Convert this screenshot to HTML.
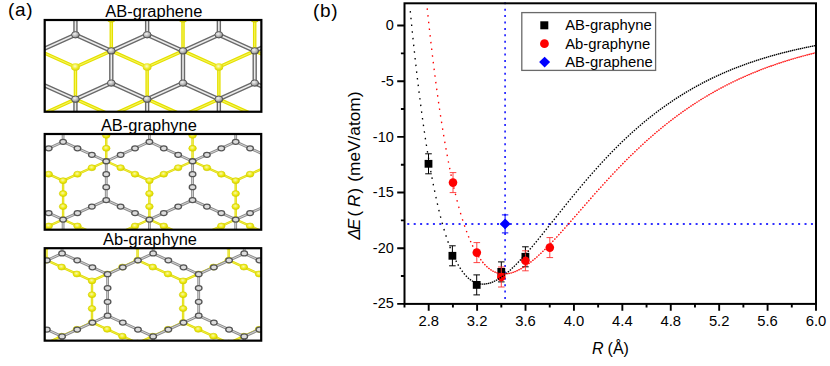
<!DOCTYPE html>
<html><head><meta charset="utf-8"><style>
html,body{margin:0;padding:0;background:#fff;}
body{width:830px;height:366px;overflow:hidden;position:relative;}
svg{position:absolute;left:0;top:0;}
text{font-family:"Liberation Sans", sans-serif;fill:#000;}
</style></head><body>
<svg width="830" height="366" viewBox="0 0 830 366">
<defs><radialGradient id="ggrad" cx="0.4" cy="0.35" r="0.7"><stop offset="0" stop-color="#f4f4f4"/><stop offset="0.6" stop-color="#b0b0b0"/><stop offset="1" stop-color="#5a5a5a"/></radialGradient><radialGradient id="ygrad" cx="0.45" cy="0.4" r="0.7"><stop offset="0" stop-color="#fbfbd0"/><stop offset="0.5" stop-color="#eeea20"/><stop offset="1" stop-color="#c8c400"/></radialGradient><radialGradient id="ygrad2" cx="0.45" cy="0.4" r="0.6"><stop offset="0" stop-color="#f8f8b0"/><stop offset="0.6" stop-color="#eeea10"/><stop offset="1" stop-color="#d8d400"/></radialGradient></defs>
<clipPath id="clip1"><rect x="44.7" y="20.0" width="216.65000000000003" height="91.75"/></clipPath>
<g clip-path="url(#clip1)">
<path d="M-32.1 115.3L3.75 99.2 M3.75 163.6L-32.1 147.5 M3.75 163.6L39.6 147.5 M-32.1 18.7L3.75 2.6 M3.75 67L3.75 99.2 M3.75 67L-32.1 50.9 M3.75 67L39.6 50.9 M39.6 115.3L39.6 147.5 M39.6 115.3L3.75 99.2 M39.6 115.3L75.45 99.2 M75.45 163.6L39.6 147.5 M75.45 163.6L111.3 147.5 M3.75 -29.6L3.75 2.6 M3.75 -29.6L-32.1 -45.7 M3.75 -29.6L39.6 -45.7 M39.6 18.7L39.6 50.9 M39.6 18.7L3.75 2.6 M39.6 18.7L75.45 2.6 M75.45 67L75.45 99.2 M75.45 67L39.6 50.9 M75.45 67L111.3 50.9 M111.3 115.3L111.3 147.5 M111.3 115.3L75.45 99.2 M111.3 115.3L147.15 99.2 M147.15 163.6L111.3 147.5 M147.15 163.6L183 147.5 M75.45 -29.6L75.45 2.6 M75.45 -29.6L39.6 -45.7 M75.45 -29.6L111.3 -45.7 M111.3 18.7L111.3 50.9 M111.3 18.7L75.45 2.6 M111.3 18.7L147.15 2.6 M147.15 67L147.15 99.2 M147.15 67L111.3 50.9 M147.15 67L183 50.9 M183 115.3L183 147.5 M183 115.3L147.15 99.2 M183 115.3L218.85 99.2 M218.85 163.6L183 147.5 M218.85 163.6L254.7 147.5 M147.15 -29.6L147.15 2.6 M147.15 -29.6L111.3 -45.7 M147.15 -29.6L183 -45.7 M183 18.7L183 50.9 M183 18.7L147.15 2.6 M183 18.7L218.85 2.6 M218.85 67L218.85 99.2 M218.85 67L183 50.9 M218.85 67L254.7 50.9 M254.7 115.3L254.7 147.5 M254.7 115.3L218.85 99.2 M254.7 115.3L290.55 99.2 M290.55 163.6L254.7 147.5 M290.55 163.6L326.4 147.5 M218.85 -29.6L218.85 2.6 M218.85 -29.6L183 -45.7 M218.85 -29.6L254.7 -45.7 M254.7 18.7L254.7 50.9 M254.7 18.7L218.85 2.6 M254.7 18.7L290.55 2.6 M290.55 67L290.55 99.2 M290.55 67L254.7 50.9 M290.55 67L326.4 50.9 M326.4 115.3L290.55 99.2 M290.55 -29.6L290.55 2.6 M290.55 -29.6L254.7 -45.7 M290.55 -29.6L326.4 -45.7 M326.4 18.7L290.55 2.6" stroke="#e4e000" stroke-width="3.5" fill="none"/>
<path d="M-32.1 115.3L3.75 99.2 M3.75 163.6L-32.1 147.5 M3.75 163.6L39.6 147.5 M-32.1 18.7L3.75 2.6 M3.75 67L3.75 99.2 M3.75 67L-32.1 50.9 M3.75 67L39.6 50.9 M39.6 115.3L39.6 147.5 M39.6 115.3L3.75 99.2 M39.6 115.3L75.45 99.2 M75.45 163.6L39.6 147.5 M75.45 163.6L111.3 147.5 M3.75 -29.6L3.75 2.6 M3.75 -29.6L-32.1 -45.7 M3.75 -29.6L39.6 -45.7 M39.6 18.7L39.6 50.9 M39.6 18.7L3.75 2.6 M39.6 18.7L75.45 2.6 M75.45 67L75.45 99.2 M75.45 67L39.6 50.9 M75.45 67L111.3 50.9 M111.3 115.3L111.3 147.5 M111.3 115.3L75.45 99.2 M111.3 115.3L147.15 99.2 M147.15 163.6L111.3 147.5 M147.15 163.6L183 147.5 M75.45 -29.6L75.45 2.6 M75.45 -29.6L39.6 -45.7 M75.45 -29.6L111.3 -45.7 M111.3 18.7L111.3 50.9 M111.3 18.7L75.45 2.6 M111.3 18.7L147.15 2.6 M147.15 67L147.15 99.2 M147.15 67L111.3 50.9 M147.15 67L183 50.9 M183 115.3L183 147.5 M183 115.3L147.15 99.2 M183 115.3L218.85 99.2 M218.85 163.6L183 147.5 M218.85 163.6L254.7 147.5 M147.15 -29.6L147.15 2.6 M147.15 -29.6L111.3 -45.7 M147.15 -29.6L183 -45.7 M183 18.7L183 50.9 M183 18.7L147.15 2.6 M183 18.7L218.85 2.6 M218.85 67L218.85 99.2 M218.85 67L183 50.9 M218.85 67L254.7 50.9 M254.7 115.3L254.7 147.5 M254.7 115.3L218.85 99.2 M254.7 115.3L290.55 99.2 M290.55 163.6L254.7 147.5 M290.55 163.6L326.4 147.5 M218.85 -29.6L218.85 2.6 M218.85 -29.6L183 -45.7 M218.85 -29.6L254.7 -45.7 M254.7 18.7L254.7 50.9 M254.7 18.7L218.85 2.6 M254.7 18.7L290.55 2.6 M290.55 67L290.55 99.2 M290.55 67L254.7 50.9 M290.55 67L326.4 50.9 M326.4 115.3L290.55 99.2 M290.55 -29.6L290.55 2.6 M290.55 -29.6L254.7 -45.7 M290.55 -29.6L326.4 -45.7 M326.4 18.7L290.55 2.6" stroke="#f6f45a" stroke-width="1.1" fill="none"/>
<ellipse cx="-32.1" cy="115.3" rx="4.4" ry="3.8" fill="url(#ygrad)" stroke="none" stroke-width="0"/>
<ellipse cx="3.75" cy="99.2" rx="4.4" ry="3.8" fill="url(#ygrad)" stroke="none" stroke-width="0"/>
<ellipse cx="3.75" cy="163.6" rx="4.4" ry="3.8" fill="url(#ygrad)" stroke="none" stroke-width="0"/>
<ellipse cx="-32.1" cy="147.5" rx="4.4" ry="3.8" fill="url(#ygrad)" stroke="none" stroke-width="0"/>
<ellipse cx="39.6" cy="147.5" rx="4.4" ry="3.8" fill="url(#ygrad)" stroke="none" stroke-width="0"/>
<ellipse cx="-32.1" cy="18.7" rx="4.4" ry="3.8" fill="url(#ygrad)" stroke="none" stroke-width="0"/>
<ellipse cx="3.75" cy="2.6" rx="4.4" ry="3.8" fill="url(#ygrad)" stroke="none" stroke-width="0"/>
<ellipse cx="3.75" cy="67" rx="4.4" ry="3.8" fill="url(#ygrad)" stroke="none" stroke-width="0"/>
<ellipse cx="-32.1" cy="50.9" rx="4.4" ry="3.8" fill="url(#ygrad)" stroke="none" stroke-width="0"/>
<ellipse cx="39.6" cy="50.9" rx="4.4" ry="3.8" fill="url(#ygrad)" stroke="none" stroke-width="0"/>
<ellipse cx="39.6" cy="115.3" rx="4.4" ry="3.8" fill="url(#ygrad)" stroke="none" stroke-width="0"/>
<ellipse cx="75.45" cy="99.2" rx="4.4" ry="3.8" fill="url(#ygrad)" stroke="none" stroke-width="0"/>
<ellipse cx="75.45" cy="163.6" rx="4.4" ry="3.8" fill="url(#ygrad)" stroke="none" stroke-width="0"/>
<ellipse cx="111.3" cy="147.5" rx="4.4" ry="3.8" fill="url(#ygrad)" stroke="none" stroke-width="0"/>
<ellipse cx="3.75" cy="-29.6" rx="4.4" ry="3.8" fill="url(#ygrad)" stroke="none" stroke-width="0"/>
<ellipse cx="-32.1" cy="-45.7" rx="4.4" ry="3.8" fill="url(#ygrad)" stroke="none" stroke-width="0"/>
<ellipse cx="39.6" cy="-45.7" rx="4.4" ry="3.8" fill="url(#ygrad)" stroke="none" stroke-width="0"/>
<ellipse cx="39.6" cy="18.7" rx="4.4" ry="3.8" fill="url(#ygrad)" stroke="none" stroke-width="0"/>
<ellipse cx="75.45" cy="2.6" rx="4.4" ry="3.8" fill="url(#ygrad)" stroke="none" stroke-width="0"/>
<ellipse cx="75.45" cy="67" rx="4.4" ry="3.8" fill="url(#ygrad)" stroke="none" stroke-width="0"/>
<ellipse cx="111.3" cy="50.9" rx="4.4" ry="3.8" fill="url(#ygrad)" stroke="none" stroke-width="0"/>
<ellipse cx="111.3" cy="115.3" rx="4.4" ry="3.8" fill="url(#ygrad)" stroke="none" stroke-width="0"/>
<ellipse cx="147.15" cy="99.2" rx="4.4" ry="3.8" fill="url(#ygrad)" stroke="none" stroke-width="0"/>
<ellipse cx="147.15" cy="163.6" rx="4.4" ry="3.8" fill="url(#ygrad)" stroke="none" stroke-width="0"/>
<ellipse cx="183" cy="147.5" rx="4.4" ry="3.8" fill="url(#ygrad)" stroke="none" stroke-width="0"/>
<ellipse cx="75.45" cy="-29.6" rx="4.4" ry="3.8" fill="url(#ygrad)" stroke="none" stroke-width="0"/>
<ellipse cx="111.3" cy="-45.7" rx="4.4" ry="3.8" fill="url(#ygrad)" stroke="none" stroke-width="0"/>
<ellipse cx="111.3" cy="18.7" rx="4.4" ry="3.8" fill="url(#ygrad)" stroke="none" stroke-width="0"/>
<ellipse cx="147.15" cy="2.6" rx="4.4" ry="3.8" fill="url(#ygrad)" stroke="none" stroke-width="0"/>
<ellipse cx="147.15" cy="67" rx="4.4" ry="3.8" fill="url(#ygrad)" stroke="none" stroke-width="0"/>
<ellipse cx="183" cy="50.9" rx="4.4" ry="3.8" fill="url(#ygrad)" stroke="none" stroke-width="0"/>
<ellipse cx="183" cy="115.3" rx="4.4" ry="3.8" fill="url(#ygrad)" stroke="none" stroke-width="0"/>
<ellipse cx="218.85" cy="99.2" rx="4.4" ry="3.8" fill="url(#ygrad)" stroke="none" stroke-width="0"/>
<ellipse cx="218.85" cy="163.6" rx="4.4" ry="3.8" fill="url(#ygrad)" stroke="none" stroke-width="0"/>
<ellipse cx="254.7" cy="147.5" rx="4.4" ry="3.8" fill="url(#ygrad)" stroke="none" stroke-width="0"/>
<ellipse cx="147.15" cy="-29.6" rx="4.4" ry="3.8" fill="url(#ygrad)" stroke="none" stroke-width="0"/>
<ellipse cx="183" cy="-45.7" rx="4.4" ry="3.8" fill="url(#ygrad)" stroke="none" stroke-width="0"/>
<ellipse cx="183" cy="18.7" rx="4.4" ry="3.8" fill="url(#ygrad)" stroke="none" stroke-width="0"/>
<ellipse cx="218.85" cy="2.6" rx="4.4" ry="3.8" fill="url(#ygrad)" stroke="none" stroke-width="0"/>
<ellipse cx="218.85" cy="67" rx="4.4" ry="3.8" fill="url(#ygrad)" stroke="none" stroke-width="0"/>
<ellipse cx="254.7" cy="50.9" rx="4.4" ry="3.8" fill="url(#ygrad)" stroke="none" stroke-width="0"/>
<ellipse cx="254.7" cy="115.3" rx="4.4" ry="3.8" fill="url(#ygrad)" stroke="none" stroke-width="0"/>
<ellipse cx="290.55" cy="99.2" rx="4.4" ry="3.8" fill="url(#ygrad)" stroke="none" stroke-width="0"/>
<ellipse cx="290.55" cy="163.6" rx="4.4" ry="3.8" fill="url(#ygrad)" stroke="none" stroke-width="0"/>
<ellipse cx="326.4" cy="147.5" rx="4.4" ry="3.8" fill="url(#ygrad)" stroke="none" stroke-width="0"/>
<ellipse cx="218.85" cy="-29.6" rx="4.4" ry="3.8" fill="url(#ygrad)" stroke="none" stroke-width="0"/>
<ellipse cx="254.7" cy="-45.7" rx="4.4" ry="3.8" fill="url(#ygrad)" stroke="none" stroke-width="0"/>
<ellipse cx="254.7" cy="18.7" rx="4.4" ry="3.8" fill="url(#ygrad)" stroke="none" stroke-width="0"/>
<ellipse cx="290.55" cy="2.6" rx="4.4" ry="3.8" fill="url(#ygrad)" stroke="none" stroke-width="0"/>
<ellipse cx="290.55" cy="67" rx="4.4" ry="3.8" fill="url(#ygrad)" stroke="none" stroke-width="0"/>
<ellipse cx="326.4" cy="50.9" rx="4.4" ry="3.8" fill="url(#ygrad)" stroke="none" stroke-width="0"/>
<ellipse cx="326.4" cy="115.3" rx="4.4" ry="3.8" fill="url(#ygrad)" stroke="none" stroke-width="0"/>
<ellipse cx="290.55" cy="-29.6" rx="4.4" ry="3.8" fill="url(#ygrad)" stroke="none" stroke-width="0"/>
<ellipse cx="326.4" cy="-45.7" rx="4.4" ry="3.8" fill="url(#ygrad)" stroke="none" stroke-width="0"/>
<ellipse cx="326.4" cy="18.7" rx="4.4" ry="3.8" fill="url(#ygrad)" stroke="none" stroke-width="0"/>
<path d="M-32.1 147.5L3.75 131.4 M-32.1 50.9L3.75 34.8 M3.75 99.2L3.75 131.4 M3.75 99.2L-32.1 83.1 M3.75 99.2L39.6 83.1 M39.6 147.5L39.6 179.7 M39.6 147.5L3.75 131.4 M39.6 147.5L75.45 131.4 M3.75 2.6L3.75 34.8 M3.75 2.6L-32.1 -13.5 M3.75 2.6L39.6 -13.5 M39.6 50.9L39.6 83.1 M39.6 50.9L3.75 34.8 M39.6 50.9L75.45 34.8 M75.45 99.2L75.45 131.4 M75.45 99.2L39.6 83.1 M75.45 99.2L111.3 83.1 M111.3 147.5L111.3 179.7 M111.3 147.5L75.45 131.4 M111.3 147.5L147.15 131.4 M39.6 -45.7L39.6 -13.5 M75.45 2.6L75.45 34.8 M75.45 2.6L39.6 -13.5 M75.45 2.6L111.3 -13.5 M111.3 50.9L111.3 83.1 M111.3 50.9L75.45 34.8 M111.3 50.9L147.15 34.8 M147.15 99.2L147.15 131.4 M147.15 99.2L111.3 83.1 M147.15 99.2L183 83.1 M183 147.5L183 179.7 M183 147.5L147.15 131.4 M183 147.5L218.85 131.4 M111.3 -45.7L111.3 -13.5 M147.15 2.6L147.15 34.8 M147.15 2.6L111.3 -13.5 M147.15 2.6L183 -13.5 M183 50.9L183 83.1 M183 50.9L147.15 34.8 M183 50.9L218.85 34.8 M218.85 99.2L218.85 131.4 M218.85 99.2L183 83.1 M218.85 99.2L254.7 83.1 M254.7 147.5L254.7 179.7 M254.7 147.5L218.85 131.4 M254.7 147.5L290.55 131.4 M183 -45.7L183 -13.5 M218.85 2.6L218.85 34.8 M218.85 2.6L183 -13.5 M218.85 2.6L254.7 -13.5 M254.7 50.9L254.7 83.1 M254.7 50.9L218.85 34.8 M254.7 50.9L290.55 34.8 M290.55 99.2L290.55 131.4 M290.55 99.2L254.7 83.1 M290.55 99.2L326.4 83.1 M326.4 147.5L290.55 131.4 M254.7 -45.7L254.7 -13.5 M290.55 2.6L290.55 34.8 M290.55 2.6L254.7 -13.5 M290.55 2.6L326.4 -13.5 M326.4 50.9L290.55 34.8" stroke="#6a6a6a" stroke-width="4.4" fill="none"/>
<path d="M-32.1 147.5L3.75 131.4 M-32.1 50.9L3.75 34.8 M3.75 99.2L3.75 131.4 M3.75 99.2L-32.1 83.1 M3.75 99.2L39.6 83.1 M39.6 147.5L39.6 179.7 M39.6 147.5L3.75 131.4 M39.6 147.5L75.45 131.4 M3.75 2.6L3.75 34.8 M3.75 2.6L-32.1 -13.5 M3.75 2.6L39.6 -13.5 M39.6 50.9L39.6 83.1 M39.6 50.9L3.75 34.8 M39.6 50.9L75.45 34.8 M75.45 99.2L75.45 131.4 M75.45 99.2L39.6 83.1 M75.45 99.2L111.3 83.1 M111.3 147.5L111.3 179.7 M111.3 147.5L75.45 131.4 M111.3 147.5L147.15 131.4 M39.6 -45.7L39.6 -13.5 M75.45 2.6L75.45 34.8 M75.45 2.6L39.6 -13.5 M75.45 2.6L111.3 -13.5 M111.3 50.9L111.3 83.1 M111.3 50.9L75.45 34.8 M111.3 50.9L147.15 34.8 M147.15 99.2L147.15 131.4 M147.15 99.2L111.3 83.1 M147.15 99.2L183 83.1 M183 147.5L183 179.7 M183 147.5L147.15 131.4 M183 147.5L218.85 131.4 M111.3 -45.7L111.3 -13.5 M147.15 2.6L147.15 34.8 M147.15 2.6L111.3 -13.5 M147.15 2.6L183 -13.5 M183 50.9L183 83.1 M183 50.9L147.15 34.8 M183 50.9L218.85 34.8 M218.85 99.2L218.85 131.4 M218.85 99.2L183 83.1 M218.85 99.2L254.7 83.1 M254.7 147.5L254.7 179.7 M254.7 147.5L218.85 131.4 M254.7 147.5L290.55 131.4 M183 -45.7L183 -13.5 M218.85 2.6L218.85 34.8 M218.85 2.6L183 -13.5 M218.85 2.6L254.7 -13.5 M254.7 50.9L254.7 83.1 M254.7 50.9L218.85 34.8 M254.7 50.9L290.55 34.8 M290.55 99.2L290.55 131.4 M290.55 99.2L254.7 83.1 M290.55 99.2L326.4 83.1 M326.4 147.5L290.55 131.4 M254.7 -45.7L254.7 -13.5 M290.55 2.6L290.55 34.8 M290.55 2.6L254.7 -13.5 M290.55 2.6L326.4 -13.5 M326.4 50.9L290.55 34.8" stroke="#ececec" stroke-width="1.6" fill="none"/>
<ellipse cx="-32.1" cy="147.5" rx="3.9" ry="3.2" fill="url(#ggrad)" stroke="#505050" stroke-width="0.9"/>
<ellipse cx="3.75" cy="131.4" rx="3.9" ry="3.2" fill="url(#ggrad)" stroke="#505050" stroke-width="0.9"/>
<ellipse cx="-32.1" cy="50.9" rx="3.9" ry="3.2" fill="url(#ggrad)" stroke="#505050" stroke-width="0.9"/>
<ellipse cx="3.75" cy="34.8" rx="3.9" ry="3.2" fill="url(#ggrad)" stroke="#505050" stroke-width="0.9"/>
<ellipse cx="3.75" cy="99.2" rx="3.9" ry="3.2" fill="url(#ggrad)" stroke="#505050" stroke-width="0.9"/>
<ellipse cx="-32.1" cy="83.1" rx="3.9" ry="3.2" fill="url(#ggrad)" stroke="#505050" stroke-width="0.9"/>
<ellipse cx="39.6" cy="83.1" rx="3.9" ry="3.2" fill="url(#ggrad)" stroke="#505050" stroke-width="0.9"/>
<ellipse cx="39.6" cy="147.5" rx="3.9" ry="3.2" fill="url(#ggrad)" stroke="#505050" stroke-width="0.9"/>
<ellipse cx="39.6" cy="179.7" rx="3.9" ry="3.2" fill="url(#ggrad)" stroke="#505050" stroke-width="0.9"/>
<ellipse cx="75.45" cy="131.4" rx="3.9" ry="3.2" fill="url(#ggrad)" stroke="#505050" stroke-width="0.9"/>
<ellipse cx="3.75" cy="2.6" rx="3.9" ry="3.2" fill="url(#ggrad)" stroke="#505050" stroke-width="0.9"/>
<ellipse cx="-32.1" cy="-13.5" rx="3.9" ry="3.2" fill="url(#ggrad)" stroke="#505050" stroke-width="0.9"/>
<ellipse cx="39.6" cy="-13.5" rx="3.9" ry="3.2" fill="url(#ggrad)" stroke="#505050" stroke-width="0.9"/>
<ellipse cx="39.6" cy="50.9" rx="3.9" ry="3.2" fill="url(#ggrad)" stroke="#505050" stroke-width="0.9"/>
<ellipse cx="75.45" cy="34.8" rx="3.9" ry="3.2" fill="url(#ggrad)" stroke="#505050" stroke-width="0.9"/>
<ellipse cx="75.45" cy="99.2" rx="3.9" ry="3.2" fill="url(#ggrad)" stroke="#505050" stroke-width="0.9"/>
<ellipse cx="111.3" cy="83.1" rx="3.9" ry="3.2" fill="url(#ggrad)" stroke="#505050" stroke-width="0.9"/>
<ellipse cx="111.3" cy="147.5" rx="3.9" ry="3.2" fill="url(#ggrad)" stroke="#505050" stroke-width="0.9"/>
<ellipse cx="111.3" cy="179.7" rx="3.9" ry="3.2" fill="url(#ggrad)" stroke="#505050" stroke-width="0.9"/>
<ellipse cx="147.15" cy="131.4" rx="3.9" ry="3.2" fill="url(#ggrad)" stroke="#505050" stroke-width="0.9"/>
<ellipse cx="39.6" cy="-45.7" rx="3.9" ry="3.2" fill="url(#ggrad)" stroke="#505050" stroke-width="0.9"/>
<ellipse cx="75.45" cy="2.6" rx="3.9" ry="3.2" fill="url(#ggrad)" stroke="#505050" stroke-width="0.9"/>
<ellipse cx="111.3" cy="-13.5" rx="3.9" ry="3.2" fill="url(#ggrad)" stroke="#505050" stroke-width="0.9"/>
<ellipse cx="111.3" cy="50.9" rx="3.9" ry="3.2" fill="url(#ggrad)" stroke="#505050" stroke-width="0.9"/>
<ellipse cx="147.15" cy="34.8" rx="3.9" ry="3.2" fill="url(#ggrad)" stroke="#505050" stroke-width="0.9"/>
<ellipse cx="147.15" cy="99.2" rx="3.9" ry="3.2" fill="url(#ggrad)" stroke="#505050" stroke-width="0.9"/>
<ellipse cx="183" cy="83.1" rx="3.9" ry="3.2" fill="url(#ggrad)" stroke="#505050" stroke-width="0.9"/>
<ellipse cx="183" cy="147.5" rx="3.9" ry="3.2" fill="url(#ggrad)" stroke="#505050" stroke-width="0.9"/>
<ellipse cx="183" cy="179.7" rx="3.9" ry="3.2" fill="url(#ggrad)" stroke="#505050" stroke-width="0.9"/>
<ellipse cx="218.85" cy="131.4" rx="3.9" ry="3.2" fill="url(#ggrad)" stroke="#505050" stroke-width="0.9"/>
<ellipse cx="111.3" cy="-45.7" rx="3.9" ry="3.2" fill="url(#ggrad)" stroke="#505050" stroke-width="0.9"/>
<ellipse cx="147.15" cy="2.6" rx="3.9" ry="3.2" fill="url(#ggrad)" stroke="#505050" stroke-width="0.9"/>
<ellipse cx="183" cy="-13.5" rx="3.9" ry="3.2" fill="url(#ggrad)" stroke="#505050" stroke-width="0.9"/>
<ellipse cx="183" cy="50.9" rx="3.9" ry="3.2" fill="url(#ggrad)" stroke="#505050" stroke-width="0.9"/>
<ellipse cx="218.85" cy="34.8" rx="3.9" ry="3.2" fill="url(#ggrad)" stroke="#505050" stroke-width="0.9"/>
<ellipse cx="218.85" cy="99.2" rx="3.9" ry="3.2" fill="url(#ggrad)" stroke="#505050" stroke-width="0.9"/>
<ellipse cx="254.7" cy="83.1" rx="3.9" ry="3.2" fill="url(#ggrad)" stroke="#505050" stroke-width="0.9"/>
<ellipse cx="254.7" cy="147.5" rx="3.9" ry="3.2" fill="url(#ggrad)" stroke="#505050" stroke-width="0.9"/>
<ellipse cx="254.7" cy="179.7" rx="3.9" ry="3.2" fill="url(#ggrad)" stroke="#505050" stroke-width="0.9"/>
<ellipse cx="290.55" cy="131.4" rx="3.9" ry="3.2" fill="url(#ggrad)" stroke="#505050" stroke-width="0.9"/>
<ellipse cx="183" cy="-45.7" rx="3.9" ry="3.2" fill="url(#ggrad)" stroke="#505050" stroke-width="0.9"/>
<ellipse cx="218.85" cy="2.6" rx="3.9" ry="3.2" fill="url(#ggrad)" stroke="#505050" stroke-width="0.9"/>
<ellipse cx="254.7" cy="-13.5" rx="3.9" ry="3.2" fill="url(#ggrad)" stroke="#505050" stroke-width="0.9"/>
<ellipse cx="254.7" cy="50.9" rx="3.9" ry="3.2" fill="url(#ggrad)" stroke="#505050" stroke-width="0.9"/>
<ellipse cx="290.55" cy="34.8" rx="3.9" ry="3.2" fill="url(#ggrad)" stroke="#505050" stroke-width="0.9"/>
<ellipse cx="290.55" cy="99.2" rx="3.9" ry="3.2" fill="url(#ggrad)" stroke="#505050" stroke-width="0.9"/>
<ellipse cx="326.4" cy="83.1" rx="3.9" ry="3.2" fill="url(#ggrad)" stroke="#505050" stroke-width="0.9"/>
<ellipse cx="326.4" cy="147.5" rx="3.9" ry="3.2" fill="url(#ggrad)" stroke="#505050" stroke-width="0.9"/>
<ellipse cx="254.7" cy="-45.7" rx="3.9" ry="3.2" fill="url(#ggrad)" stroke="#505050" stroke-width="0.9"/>
<ellipse cx="290.55" cy="2.6" rx="3.9" ry="3.2" fill="url(#ggrad)" stroke="#505050" stroke-width="0.9"/>
<ellipse cx="326.4" cy="-13.5" rx="3.9" ry="3.2" fill="url(#ggrad)" stroke="#505050" stroke-width="0.9"/>
<ellipse cx="326.4" cy="50.9" rx="3.9" ry="3.2" fill="url(#ggrad)" stroke="#505050" stroke-width="0.9"/>
</g>
<rect x="44.7" y="20.0" width="216.65" height="91.75" fill="none" stroke="#000" stroke-width="2.2"/>
<clipPath id="clip2"><rect x="44.7" y="134.0" width="216.5" height="95.69999999999999"/></clipPath>
<g clip-path="url(#clip2)">
<path d="M-23.2 297.23L19.95 277.8 M-23.2 180.68L19.95 161.25 M19.95 238.95L19.95 277.8 M19.95 238.95L-23.2 219.53 M19.95 238.95L63.1 219.53 M63.1 297.23L19.95 277.8 M63.1 297.23L106.25 277.8 M19.95 122.4L19.95 161.25 M19.95 122.4L-23.2 102.98 M19.95 122.4L63.1 102.98 M63.1 180.68L63.1 219.53 M63.1 180.68L19.95 161.25 M63.1 180.68L106.25 161.25 M106.25 238.95L106.25 277.8 M106.25 238.95L63.1 219.53 M106.25 238.95L149.4 219.53 M149.4 297.23L106.25 277.8 M149.4 297.23L192.55 277.8 M63.1 64.12L63.1 102.97 M106.25 122.4L106.25 161.25 M106.25 122.4L63.1 102.98 M106.25 122.4L149.4 102.98 M149.4 180.68L149.4 219.53 M149.4 180.68L106.25 161.25 M149.4 180.68L192.55 161.25 M192.55 238.95L192.55 277.8 M192.55 238.95L149.4 219.53 M192.55 238.95L235.7 219.53 M235.7 297.23L192.55 277.8 M235.7 297.23L278.85 277.8 M149.4 64.12L149.4 102.97 M192.55 122.4L192.55 161.25 M192.55 122.4L149.4 102.98 M192.55 122.4L235.7 102.98 M235.7 180.68L235.7 219.53 M235.7 180.68L192.55 161.25 M235.7 180.68L278.85 161.25 M278.85 238.95L278.85 277.8 M278.85 238.95L235.7 219.53 M278.85 238.95L322 219.53 M322 297.23L278.85 277.8 M235.7 64.12L235.7 102.97 M278.85 122.4L278.85 161.25 M278.85 122.4L235.7 102.98 M278.85 122.4L322 102.98 M322 180.68L278.85 161.25" stroke="#e2de00" stroke-width="2.4" fill="none"/>
<path d="M-23.2 297.23L19.95 277.8 M-23.2 180.68L19.95 161.25 M19.95 238.95L19.95 277.8 M19.95 238.95L-23.2 219.53 M19.95 238.95L63.1 219.53 M63.1 297.23L19.95 277.8 M63.1 297.23L106.25 277.8 M19.95 122.4L19.95 161.25 M19.95 122.4L-23.2 102.98 M19.95 122.4L63.1 102.98 M63.1 180.68L63.1 219.53 M63.1 180.68L19.95 161.25 M63.1 180.68L106.25 161.25 M106.25 238.95L106.25 277.8 M106.25 238.95L63.1 219.53 M106.25 238.95L149.4 219.53 M149.4 297.23L106.25 277.8 M149.4 297.23L192.55 277.8 M63.1 64.12L63.1 102.97 M106.25 122.4L106.25 161.25 M106.25 122.4L63.1 102.98 M106.25 122.4L149.4 102.98 M149.4 180.68L149.4 219.53 M149.4 180.68L106.25 161.25 M149.4 180.68L192.55 161.25 M192.55 238.95L192.55 277.8 M192.55 238.95L149.4 219.53 M192.55 238.95L235.7 219.53 M235.7 297.23L192.55 277.8 M235.7 297.23L278.85 277.8 M149.4 64.12L149.4 102.97 M192.55 122.4L192.55 161.25 M192.55 122.4L149.4 102.98 M192.55 122.4L235.7 102.98 M235.7 180.68L235.7 219.53 M235.7 180.68L192.55 161.25 M235.7 180.68L278.85 161.25 M278.85 238.95L278.85 277.8 M278.85 238.95L235.7 219.53 M278.85 238.95L322 219.53 M322 297.23L278.85 277.8 M235.7 64.12L235.7 102.97 M278.85 122.4L278.85 161.25 M278.85 122.4L235.7 102.98 M278.85 122.4L322 102.98 M322 180.68L278.85 161.25" stroke="#f0ec70" stroke-width="0.7" fill="none"/>
<ellipse cx="-23.2" cy="297.23" rx="3.8" ry="3.0" fill="url(#ygrad2)" stroke="#d0cc00" stroke-width="0.6"/>
<ellipse cx="19.95" cy="277.8" rx="3.8" ry="3.0" fill="url(#ygrad2)" stroke="#d0cc00" stroke-width="0.6"/>
<ellipse cx="-8.82" cy="290.75" rx="3.8" ry="3.0" fill="url(#ygrad2)" stroke="#d0cc00" stroke-width="0.6"/>
<ellipse cx="5.57" cy="284.28" rx="3.8" ry="3.0" fill="url(#ygrad2)" stroke="#d0cc00" stroke-width="0.6"/>
<ellipse cx="-23.2" cy="180.68" rx="3.8" ry="3.0" fill="url(#ygrad2)" stroke="#d0cc00" stroke-width="0.6"/>
<ellipse cx="19.95" cy="161.25" rx="3.8" ry="3.0" fill="url(#ygrad2)" stroke="#d0cc00" stroke-width="0.6"/>
<ellipse cx="-8.82" cy="174.2" rx="3.8" ry="3.0" fill="url(#ygrad2)" stroke="#d0cc00" stroke-width="0.6"/>
<ellipse cx="5.57" cy="167.72" rx="3.8" ry="3.0" fill="url(#ygrad2)" stroke="#d0cc00" stroke-width="0.6"/>
<ellipse cx="19.95" cy="238.95" rx="3.8" ry="3.0" fill="url(#ygrad2)" stroke="#d0cc00" stroke-width="0.6"/>
<ellipse cx="19.95" cy="251.9" rx="3.8" ry="3.0" fill="url(#ygrad2)" stroke="#d0cc00" stroke-width="0.6"/>
<ellipse cx="19.95" cy="264.85" rx="3.8" ry="3.0" fill="url(#ygrad2)" stroke="#d0cc00" stroke-width="0.6"/>
<ellipse cx="-23.2" cy="219.53" rx="3.8" ry="3.0" fill="url(#ygrad2)" stroke="#d0cc00" stroke-width="0.6"/>
<ellipse cx="5.57" cy="232.48" rx="3.8" ry="3.0" fill="url(#ygrad2)" stroke="#d0cc00" stroke-width="0.6"/>
<ellipse cx="-8.82" cy="226" rx="3.8" ry="3.0" fill="url(#ygrad2)" stroke="#d0cc00" stroke-width="0.6"/>
<ellipse cx="63.1" cy="219.53" rx="3.8" ry="3.0" fill="url(#ygrad2)" stroke="#d0cc00" stroke-width="0.6"/>
<ellipse cx="34.33" cy="232.48" rx="3.8" ry="3.0" fill="url(#ygrad2)" stroke="#d0cc00" stroke-width="0.6"/>
<ellipse cx="48.72" cy="226" rx="3.8" ry="3.0" fill="url(#ygrad2)" stroke="#d0cc00" stroke-width="0.6"/>
<ellipse cx="63.1" cy="297.23" rx="3.8" ry="3.0" fill="url(#ygrad2)" stroke="#d0cc00" stroke-width="0.6"/>
<ellipse cx="48.72" cy="290.75" rx="3.8" ry="3.0" fill="url(#ygrad2)" stroke="#d0cc00" stroke-width="0.6"/>
<ellipse cx="34.33" cy="284.28" rx="3.8" ry="3.0" fill="url(#ygrad2)" stroke="#d0cc00" stroke-width="0.6"/>
<ellipse cx="106.25" cy="277.8" rx="3.8" ry="3.0" fill="url(#ygrad2)" stroke="#d0cc00" stroke-width="0.6"/>
<ellipse cx="77.48" cy="290.75" rx="3.8" ry="3.0" fill="url(#ygrad2)" stroke="#d0cc00" stroke-width="0.6"/>
<ellipse cx="91.87" cy="284.28" rx="3.8" ry="3.0" fill="url(#ygrad2)" stroke="#d0cc00" stroke-width="0.6"/>
<ellipse cx="19.95" cy="122.4" rx="3.8" ry="3.0" fill="url(#ygrad2)" stroke="#d0cc00" stroke-width="0.6"/>
<ellipse cx="19.95" cy="135.35" rx="3.8" ry="3.0" fill="url(#ygrad2)" stroke="#d0cc00" stroke-width="0.6"/>
<ellipse cx="19.95" cy="148.3" rx="3.8" ry="3.0" fill="url(#ygrad2)" stroke="#d0cc00" stroke-width="0.6"/>
<ellipse cx="-23.2" cy="102.98" rx="3.8" ry="3.0" fill="url(#ygrad2)" stroke="#d0cc00" stroke-width="0.6"/>
<ellipse cx="5.57" cy="115.93" rx="3.8" ry="3.0" fill="url(#ygrad2)" stroke="#d0cc00" stroke-width="0.6"/>
<ellipse cx="-8.82" cy="109.45" rx="3.8" ry="3.0" fill="url(#ygrad2)" stroke="#d0cc00" stroke-width="0.6"/>
<ellipse cx="63.1" cy="102.98" rx="3.8" ry="3.0" fill="url(#ygrad2)" stroke="#d0cc00" stroke-width="0.6"/>
<ellipse cx="34.33" cy="115.93" rx="3.8" ry="3.0" fill="url(#ygrad2)" stroke="#d0cc00" stroke-width="0.6"/>
<ellipse cx="48.72" cy="109.45" rx="3.8" ry="3.0" fill="url(#ygrad2)" stroke="#d0cc00" stroke-width="0.6"/>
<ellipse cx="63.1" cy="180.68" rx="3.8" ry="3.0" fill="url(#ygrad2)" stroke="#d0cc00" stroke-width="0.6"/>
<ellipse cx="63.1" cy="193.62" rx="3.8" ry="3.0" fill="url(#ygrad2)" stroke="#d0cc00" stroke-width="0.6"/>
<ellipse cx="63.1" cy="206.58" rx="3.8" ry="3.0" fill="url(#ygrad2)" stroke="#d0cc00" stroke-width="0.6"/>
<ellipse cx="48.72" cy="174.2" rx="3.8" ry="3.0" fill="url(#ygrad2)" stroke="#d0cc00" stroke-width="0.6"/>
<ellipse cx="34.33" cy="167.72" rx="3.8" ry="3.0" fill="url(#ygrad2)" stroke="#d0cc00" stroke-width="0.6"/>
<ellipse cx="106.25" cy="161.25" rx="3.8" ry="3.0" fill="url(#ygrad2)" stroke="#d0cc00" stroke-width="0.6"/>
<ellipse cx="77.48" cy="174.2" rx="3.8" ry="3.0" fill="url(#ygrad2)" stroke="#d0cc00" stroke-width="0.6"/>
<ellipse cx="91.87" cy="167.72" rx="3.8" ry="3.0" fill="url(#ygrad2)" stroke="#d0cc00" stroke-width="0.6"/>
<ellipse cx="106.25" cy="238.95" rx="3.8" ry="3.0" fill="url(#ygrad2)" stroke="#d0cc00" stroke-width="0.6"/>
<ellipse cx="106.25" cy="251.9" rx="3.8" ry="3.0" fill="url(#ygrad2)" stroke="#d0cc00" stroke-width="0.6"/>
<ellipse cx="106.25" cy="264.85" rx="3.8" ry="3.0" fill="url(#ygrad2)" stroke="#d0cc00" stroke-width="0.6"/>
<ellipse cx="91.87" cy="232.48" rx="3.8" ry="3.0" fill="url(#ygrad2)" stroke="#d0cc00" stroke-width="0.6"/>
<ellipse cx="77.48" cy="226" rx="3.8" ry="3.0" fill="url(#ygrad2)" stroke="#d0cc00" stroke-width="0.6"/>
<ellipse cx="149.4" cy="219.53" rx="3.8" ry="3.0" fill="url(#ygrad2)" stroke="#d0cc00" stroke-width="0.6"/>
<ellipse cx="120.63" cy="232.48" rx="3.8" ry="3.0" fill="url(#ygrad2)" stroke="#d0cc00" stroke-width="0.6"/>
<ellipse cx="135.02" cy="226" rx="3.8" ry="3.0" fill="url(#ygrad2)" stroke="#d0cc00" stroke-width="0.6"/>
<ellipse cx="149.4" cy="297.23" rx="3.8" ry="3.0" fill="url(#ygrad2)" stroke="#d0cc00" stroke-width="0.6"/>
<ellipse cx="135.02" cy="290.75" rx="3.8" ry="3.0" fill="url(#ygrad2)" stroke="#d0cc00" stroke-width="0.6"/>
<ellipse cx="120.63" cy="284.28" rx="3.8" ry="3.0" fill="url(#ygrad2)" stroke="#d0cc00" stroke-width="0.6"/>
<ellipse cx="192.55" cy="277.8" rx="3.8" ry="3.0" fill="url(#ygrad2)" stroke="#d0cc00" stroke-width="0.6"/>
<ellipse cx="163.78" cy="290.75" rx="3.8" ry="3.0" fill="url(#ygrad2)" stroke="#d0cc00" stroke-width="0.6"/>
<ellipse cx="178.17" cy="284.28" rx="3.8" ry="3.0" fill="url(#ygrad2)" stroke="#d0cc00" stroke-width="0.6"/>
<ellipse cx="63.1" cy="64.12" rx="3.8" ry="3.0" fill="url(#ygrad2)" stroke="#d0cc00" stroke-width="0.6"/>
<ellipse cx="63.1" cy="102.97" rx="3.8" ry="3.0" fill="url(#ygrad2)" stroke="#d0cc00" stroke-width="0.6"/>
<ellipse cx="63.1" cy="77.08" rx="3.8" ry="3.0" fill="url(#ygrad2)" stroke="#d0cc00" stroke-width="0.6"/>
<ellipse cx="63.1" cy="90.02" rx="3.8" ry="3.0" fill="url(#ygrad2)" stroke="#d0cc00" stroke-width="0.6"/>
<ellipse cx="106.25" cy="122.4" rx="3.8" ry="3.0" fill="url(#ygrad2)" stroke="#d0cc00" stroke-width="0.6"/>
<ellipse cx="106.25" cy="135.35" rx="3.8" ry="3.0" fill="url(#ygrad2)" stroke="#d0cc00" stroke-width="0.6"/>
<ellipse cx="106.25" cy="148.3" rx="3.8" ry="3.0" fill="url(#ygrad2)" stroke="#d0cc00" stroke-width="0.6"/>
<ellipse cx="91.87" cy="115.93" rx="3.8" ry="3.0" fill="url(#ygrad2)" stroke="#d0cc00" stroke-width="0.6"/>
<ellipse cx="77.48" cy="109.45" rx="3.8" ry="3.0" fill="url(#ygrad2)" stroke="#d0cc00" stroke-width="0.6"/>
<ellipse cx="149.4" cy="102.98" rx="3.8" ry="3.0" fill="url(#ygrad2)" stroke="#d0cc00" stroke-width="0.6"/>
<ellipse cx="120.63" cy="115.93" rx="3.8" ry="3.0" fill="url(#ygrad2)" stroke="#d0cc00" stroke-width="0.6"/>
<ellipse cx="135.02" cy="109.45" rx="3.8" ry="3.0" fill="url(#ygrad2)" stroke="#d0cc00" stroke-width="0.6"/>
<ellipse cx="149.4" cy="180.68" rx="3.8" ry="3.0" fill="url(#ygrad2)" stroke="#d0cc00" stroke-width="0.6"/>
<ellipse cx="149.4" cy="193.62" rx="3.8" ry="3.0" fill="url(#ygrad2)" stroke="#d0cc00" stroke-width="0.6"/>
<ellipse cx="149.4" cy="206.58" rx="3.8" ry="3.0" fill="url(#ygrad2)" stroke="#d0cc00" stroke-width="0.6"/>
<ellipse cx="135.02" cy="174.2" rx="3.8" ry="3.0" fill="url(#ygrad2)" stroke="#d0cc00" stroke-width="0.6"/>
<ellipse cx="120.63" cy="167.72" rx="3.8" ry="3.0" fill="url(#ygrad2)" stroke="#d0cc00" stroke-width="0.6"/>
<ellipse cx="192.55" cy="161.25" rx="3.8" ry="3.0" fill="url(#ygrad2)" stroke="#d0cc00" stroke-width="0.6"/>
<ellipse cx="163.78" cy="174.2" rx="3.8" ry="3.0" fill="url(#ygrad2)" stroke="#d0cc00" stroke-width="0.6"/>
<ellipse cx="178.17" cy="167.72" rx="3.8" ry="3.0" fill="url(#ygrad2)" stroke="#d0cc00" stroke-width="0.6"/>
<ellipse cx="192.55" cy="238.95" rx="3.8" ry="3.0" fill="url(#ygrad2)" stroke="#d0cc00" stroke-width="0.6"/>
<ellipse cx="192.55" cy="251.9" rx="3.8" ry="3.0" fill="url(#ygrad2)" stroke="#d0cc00" stroke-width="0.6"/>
<ellipse cx="192.55" cy="264.85" rx="3.8" ry="3.0" fill="url(#ygrad2)" stroke="#d0cc00" stroke-width="0.6"/>
<ellipse cx="178.17" cy="232.48" rx="3.8" ry="3.0" fill="url(#ygrad2)" stroke="#d0cc00" stroke-width="0.6"/>
<ellipse cx="163.78" cy="226" rx="3.8" ry="3.0" fill="url(#ygrad2)" stroke="#d0cc00" stroke-width="0.6"/>
<ellipse cx="235.7" cy="219.53" rx="3.8" ry="3.0" fill="url(#ygrad2)" stroke="#d0cc00" stroke-width="0.6"/>
<ellipse cx="206.93" cy="232.48" rx="3.8" ry="3.0" fill="url(#ygrad2)" stroke="#d0cc00" stroke-width="0.6"/>
<ellipse cx="221.32" cy="226" rx="3.8" ry="3.0" fill="url(#ygrad2)" stroke="#d0cc00" stroke-width="0.6"/>
<ellipse cx="235.7" cy="297.23" rx="3.8" ry="3.0" fill="url(#ygrad2)" stroke="#d0cc00" stroke-width="0.6"/>
<ellipse cx="221.32" cy="290.75" rx="3.8" ry="3.0" fill="url(#ygrad2)" stroke="#d0cc00" stroke-width="0.6"/>
<ellipse cx="206.93" cy="284.28" rx="3.8" ry="3.0" fill="url(#ygrad2)" stroke="#d0cc00" stroke-width="0.6"/>
<ellipse cx="278.85" cy="277.8" rx="3.8" ry="3.0" fill="url(#ygrad2)" stroke="#d0cc00" stroke-width="0.6"/>
<ellipse cx="250.08" cy="290.75" rx="3.8" ry="3.0" fill="url(#ygrad2)" stroke="#d0cc00" stroke-width="0.6"/>
<ellipse cx="264.47" cy="284.28" rx="3.8" ry="3.0" fill="url(#ygrad2)" stroke="#d0cc00" stroke-width="0.6"/>
<ellipse cx="149.4" cy="64.12" rx="3.8" ry="3.0" fill="url(#ygrad2)" stroke="#d0cc00" stroke-width="0.6"/>
<ellipse cx="149.4" cy="102.97" rx="3.8" ry="3.0" fill="url(#ygrad2)" stroke="#d0cc00" stroke-width="0.6"/>
<ellipse cx="149.4" cy="77.08" rx="3.8" ry="3.0" fill="url(#ygrad2)" stroke="#d0cc00" stroke-width="0.6"/>
<ellipse cx="149.4" cy="90.02" rx="3.8" ry="3.0" fill="url(#ygrad2)" stroke="#d0cc00" stroke-width="0.6"/>
<ellipse cx="192.55" cy="122.4" rx="3.8" ry="3.0" fill="url(#ygrad2)" stroke="#d0cc00" stroke-width="0.6"/>
<ellipse cx="192.55" cy="135.35" rx="3.8" ry="3.0" fill="url(#ygrad2)" stroke="#d0cc00" stroke-width="0.6"/>
<ellipse cx="192.55" cy="148.3" rx="3.8" ry="3.0" fill="url(#ygrad2)" stroke="#d0cc00" stroke-width="0.6"/>
<ellipse cx="178.17" cy="115.93" rx="3.8" ry="3.0" fill="url(#ygrad2)" stroke="#d0cc00" stroke-width="0.6"/>
<ellipse cx="163.78" cy="109.45" rx="3.8" ry="3.0" fill="url(#ygrad2)" stroke="#d0cc00" stroke-width="0.6"/>
<ellipse cx="235.7" cy="102.98" rx="3.8" ry="3.0" fill="url(#ygrad2)" stroke="#d0cc00" stroke-width="0.6"/>
<ellipse cx="206.93" cy="115.93" rx="3.8" ry="3.0" fill="url(#ygrad2)" stroke="#d0cc00" stroke-width="0.6"/>
<ellipse cx="221.32" cy="109.45" rx="3.8" ry="3.0" fill="url(#ygrad2)" stroke="#d0cc00" stroke-width="0.6"/>
<ellipse cx="235.7" cy="180.68" rx="3.8" ry="3.0" fill="url(#ygrad2)" stroke="#d0cc00" stroke-width="0.6"/>
<ellipse cx="235.7" cy="193.62" rx="3.8" ry="3.0" fill="url(#ygrad2)" stroke="#d0cc00" stroke-width="0.6"/>
<ellipse cx="235.7" cy="206.58" rx="3.8" ry="3.0" fill="url(#ygrad2)" stroke="#d0cc00" stroke-width="0.6"/>
<ellipse cx="221.32" cy="174.2" rx="3.8" ry="3.0" fill="url(#ygrad2)" stroke="#d0cc00" stroke-width="0.6"/>
<ellipse cx="206.93" cy="167.72" rx="3.8" ry="3.0" fill="url(#ygrad2)" stroke="#d0cc00" stroke-width="0.6"/>
<ellipse cx="278.85" cy="161.25" rx="3.8" ry="3.0" fill="url(#ygrad2)" stroke="#d0cc00" stroke-width="0.6"/>
<ellipse cx="250.08" cy="174.2" rx="3.8" ry="3.0" fill="url(#ygrad2)" stroke="#d0cc00" stroke-width="0.6"/>
<ellipse cx="264.47" cy="167.72" rx="3.8" ry="3.0" fill="url(#ygrad2)" stroke="#d0cc00" stroke-width="0.6"/>
<ellipse cx="278.85" cy="238.95" rx="3.8" ry="3.0" fill="url(#ygrad2)" stroke="#d0cc00" stroke-width="0.6"/>
<ellipse cx="278.85" cy="251.9" rx="3.8" ry="3.0" fill="url(#ygrad2)" stroke="#d0cc00" stroke-width="0.6"/>
<ellipse cx="278.85" cy="264.85" rx="3.8" ry="3.0" fill="url(#ygrad2)" stroke="#d0cc00" stroke-width="0.6"/>
<ellipse cx="264.47" cy="232.48" rx="3.8" ry="3.0" fill="url(#ygrad2)" stroke="#d0cc00" stroke-width="0.6"/>
<ellipse cx="250.08" cy="226" rx="3.8" ry="3.0" fill="url(#ygrad2)" stroke="#d0cc00" stroke-width="0.6"/>
<ellipse cx="322" cy="219.53" rx="3.8" ry="3.0" fill="url(#ygrad2)" stroke="#d0cc00" stroke-width="0.6"/>
<ellipse cx="293.23" cy="232.48" rx="3.8" ry="3.0" fill="url(#ygrad2)" stroke="#d0cc00" stroke-width="0.6"/>
<ellipse cx="307.62" cy="226" rx="3.8" ry="3.0" fill="url(#ygrad2)" stroke="#d0cc00" stroke-width="0.6"/>
<ellipse cx="322" cy="297.23" rx="3.8" ry="3.0" fill="url(#ygrad2)" stroke="#d0cc00" stroke-width="0.6"/>
<ellipse cx="307.62" cy="290.75" rx="3.8" ry="3.0" fill="url(#ygrad2)" stroke="#d0cc00" stroke-width="0.6"/>
<ellipse cx="293.23" cy="284.28" rx="3.8" ry="3.0" fill="url(#ygrad2)" stroke="#d0cc00" stroke-width="0.6"/>
<ellipse cx="235.7" cy="64.12" rx="3.8" ry="3.0" fill="url(#ygrad2)" stroke="#d0cc00" stroke-width="0.6"/>
<ellipse cx="235.7" cy="102.97" rx="3.8" ry="3.0" fill="url(#ygrad2)" stroke="#d0cc00" stroke-width="0.6"/>
<ellipse cx="235.7" cy="77.08" rx="3.8" ry="3.0" fill="url(#ygrad2)" stroke="#d0cc00" stroke-width="0.6"/>
<ellipse cx="235.7" cy="90.02" rx="3.8" ry="3.0" fill="url(#ygrad2)" stroke="#d0cc00" stroke-width="0.6"/>
<ellipse cx="278.85" cy="122.4" rx="3.8" ry="3.0" fill="url(#ygrad2)" stroke="#d0cc00" stroke-width="0.6"/>
<ellipse cx="278.85" cy="135.35" rx="3.8" ry="3.0" fill="url(#ygrad2)" stroke="#d0cc00" stroke-width="0.6"/>
<ellipse cx="278.85" cy="148.3" rx="3.8" ry="3.0" fill="url(#ygrad2)" stroke="#d0cc00" stroke-width="0.6"/>
<ellipse cx="264.47" cy="115.93" rx="3.8" ry="3.0" fill="url(#ygrad2)" stroke="#d0cc00" stroke-width="0.6"/>
<ellipse cx="250.08" cy="109.45" rx="3.8" ry="3.0" fill="url(#ygrad2)" stroke="#d0cc00" stroke-width="0.6"/>
<ellipse cx="322" cy="102.98" rx="3.8" ry="3.0" fill="url(#ygrad2)" stroke="#d0cc00" stroke-width="0.6"/>
<ellipse cx="293.23" cy="115.93" rx="3.8" ry="3.0" fill="url(#ygrad2)" stroke="#d0cc00" stroke-width="0.6"/>
<ellipse cx="307.62" cy="109.45" rx="3.8" ry="3.0" fill="url(#ygrad2)" stroke="#d0cc00" stroke-width="0.6"/>
<ellipse cx="322" cy="180.68" rx="3.8" ry="3.0" fill="url(#ygrad2)" stroke="#d0cc00" stroke-width="0.6"/>
<ellipse cx="307.62" cy="174.2" rx="3.8" ry="3.0" fill="url(#ygrad2)" stroke="#d0cc00" stroke-width="0.6"/>
<ellipse cx="293.23" cy="167.72" rx="3.8" ry="3.0" fill="url(#ygrad2)" stroke="#d0cc00" stroke-width="0.6"/>
<path d="M-23.2 219.53L19.95 200.1 M19.95 277.8L-23.2 258.38 M19.95 277.8L63.1 258.38 M-23.2 102.97L19.95 83.55 M19.95 161.25L19.95 200.1 M19.95 161.25L-23.2 141.82 M19.95 161.25L63.1 141.82 M63.1 219.53L63.1 258.38 M63.1 219.53L19.95 200.1 M63.1 219.53L106.25 200.1 M106.25 277.8L63.1 258.38 M106.25 277.8L149.4 258.38 M63.1 102.97L63.1 141.82 M63.1 102.97L19.95 83.55 M63.1 102.97L106.25 83.55 M106.25 161.25L106.25 200.1 M106.25 161.25L63.1 141.82 M106.25 161.25L149.4 141.82 M149.4 219.53L149.4 258.38 M149.4 219.53L106.25 200.1 M149.4 219.53L192.55 200.1 M192.55 277.8L149.4 258.38 M192.55 277.8L235.7 258.38 M149.4 102.97L149.4 141.82 M149.4 102.97L106.25 83.55 M149.4 102.97L192.55 83.55 M192.55 161.25L192.55 200.1 M192.55 161.25L149.4 141.82 M192.55 161.25L235.7 141.82 M235.7 219.53L235.7 258.38 M235.7 219.53L192.55 200.1 M235.7 219.53L278.85 200.1 M278.85 277.8L235.7 258.38 M278.85 277.8L322 258.38 M235.7 102.97L235.7 141.82 M235.7 102.97L192.55 83.55 M235.7 102.97L278.85 83.55 M278.85 161.25L278.85 200.1 M278.85 161.25L235.7 141.82 M278.85 161.25L322 141.82 M322 219.53L278.85 200.1 M322 102.97L278.85 83.55" stroke="#8c8c8c" stroke-width="2.8" fill="none"/>
<path d="M-23.2 219.53L19.95 200.1 M19.95 277.8L-23.2 258.38 M19.95 277.8L63.1 258.38 M-23.2 102.97L19.95 83.55 M19.95 161.25L19.95 200.1 M19.95 161.25L-23.2 141.82 M19.95 161.25L63.1 141.82 M63.1 219.53L63.1 258.38 M63.1 219.53L19.95 200.1 M63.1 219.53L106.25 200.1 M106.25 277.8L63.1 258.38 M106.25 277.8L149.4 258.38 M63.1 102.97L63.1 141.82 M63.1 102.97L19.95 83.55 M63.1 102.97L106.25 83.55 M106.25 161.25L106.25 200.1 M106.25 161.25L63.1 141.82 M106.25 161.25L149.4 141.82 M149.4 219.53L149.4 258.38 M149.4 219.53L106.25 200.1 M149.4 219.53L192.55 200.1 M192.55 277.8L149.4 258.38 M192.55 277.8L235.7 258.38 M149.4 102.97L149.4 141.82 M149.4 102.97L106.25 83.55 M149.4 102.97L192.55 83.55 M192.55 161.25L192.55 200.1 M192.55 161.25L149.4 141.82 M192.55 161.25L235.7 141.82 M235.7 219.53L235.7 258.38 M235.7 219.53L192.55 200.1 M235.7 219.53L278.85 200.1 M278.85 277.8L235.7 258.38 M278.85 277.8L322 258.38 M235.7 102.97L235.7 141.82 M235.7 102.97L192.55 83.55 M235.7 102.97L278.85 83.55 M278.85 161.25L278.85 200.1 M278.85 161.25L235.7 141.82 M278.85 161.25L322 141.82 M322 219.53L278.85 200.1 M322 102.97L278.85 83.55" stroke="#dadada" stroke-width="0.9" fill="none"/>
<ellipse cx="-23.2" cy="219.53" rx="3.3" ry="2.5" fill="#dcdcdc" stroke="#555555" stroke-width="1.3"/>
<ellipse cx="19.95" cy="200.1" rx="3.3" ry="2.5" fill="#dcdcdc" stroke="#555555" stroke-width="1.3"/>
<ellipse cx="-8.82" cy="213.05" rx="3.3" ry="2.5" fill="#dcdcdc" stroke="#555555" stroke-width="1.3"/>
<ellipse cx="5.57" cy="206.57" rx="3.3" ry="2.5" fill="#dcdcdc" stroke="#555555" stroke-width="1.3"/>
<ellipse cx="19.95" cy="277.8" rx="3.3" ry="2.5" fill="#dcdcdc" stroke="#555555" stroke-width="1.3"/>
<ellipse cx="-23.2" cy="258.38" rx="3.3" ry="2.5" fill="#dcdcdc" stroke="#555555" stroke-width="1.3"/>
<ellipse cx="5.57" cy="271.32" rx="3.3" ry="2.5" fill="#dcdcdc" stroke="#555555" stroke-width="1.3"/>
<ellipse cx="-8.82" cy="264.85" rx="3.3" ry="2.5" fill="#dcdcdc" stroke="#555555" stroke-width="1.3"/>
<ellipse cx="63.1" cy="258.38" rx="3.3" ry="2.5" fill="#dcdcdc" stroke="#555555" stroke-width="1.3"/>
<ellipse cx="34.33" cy="271.32" rx="3.3" ry="2.5" fill="#dcdcdc" stroke="#555555" stroke-width="1.3"/>
<ellipse cx="48.72" cy="264.85" rx="3.3" ry="2.5" fill="#dcdcdc" stroke="#555555" stroke-width="1.3"/>
<ellipse cx="-23.2" cy="102.97" rx="3.3" ry="2.5" fill="#dcdcdc" stroke="#555555" stroke-width="1.3"/>
<ellipse cx="19.95" cy="83.55" rx="3.3" ry="2.5" fill="#dcdcdc" stroke="#555555" stroke-width="1.3"/>
<ellipse cx="-8.82" cy="96.5" rx="3.3" ry="2.5" fill="#dcdcdc" stroke="#555555" stroke-width="1.3"/>
<ellipse cx="5.57" cy="90.02" rx="3.3" ry="2.5" fill="#dcdcdc" stroke="#555555" stroke-width="1.3"/>
<ellipse cx="19.95" cy="161.25" rx="3.3" ry="2.5" fill="#dcdcdc" stroke="#555555" stroke-width="1.3"/>
<ellipse cx="19.95" cy="174.2" rx="3.3" ry="2.5" fill="#dcdcdc" stroke="#555555" stroke-width="1.3"/>
<ellipse cx="19.95" cy="187.15" rx="3.3" ry="2.5" fill="#dcdcdc" stroke="#555555" stroke-width="1.3"/>
<ellipse cx="-23.2" cy="141.82" rx="3.3" ry="2.5" fill="#dcdcdc" stroke="#555555" stroke-width="1.3"/>
<ellipse cx="5.57" cy="154.78" rx="3.3" ry="2.5" fill="#dcdcdc" stroke="#555555" stroke-width="1.3"/>
<ellipse cx="-8.82" cy="148.3" rx="3.3" ry="2.5" fill="#dcdcdc" stroke="#555555" stroke-width="1.3"/>
<ellipse cx="63.1" cy="141.82" rx="3.3" ry="2.5" fill="#dcdcdc" stroke="#555555" stroke-width="1.3"/>
<ellipse cx="34.33" cy="154.78" rx="3.3" ry="2.5" fill="#dcdcdc" stroke="#555555" stroke-width="1.3"/>
<ellipse cx="48.72" cy="148.3" rx="3.3" ry="2.5" fill="#dcdcdc" stroke="#555555" stroke-width="1.3"/>
<ellipse cx="63.1" cy="219.53" rx="3.3" ry="2.5" fill="#dcdcdc" stroke="#555555" stroke-width="1.3"/>
<ellipse cx="63.1" cy="232.47" rx="3.3" ry="2.5" fill="#dcdcdc" stroke="#555555" stroke-width="1.3"/>
<ellipse cx="63.1" cy="245.43" rx="3.3" ry="2.5" fill="#dcdcdc" stroke="#555555" stroke-width="1.3"/>
<ellipse cx="48.72" cy="213.05" rx="3.3" ry="2.5" fill="#dcdcdc" stroke="#555555" stroke-width="1.3"/>
<ellipse cx="34.33" cy="206.57" rx="3.3" ry="2.5" fill="#dcdcdc" stroke="#555555" stroke-width="1.3"/>
<ellipse cx="106.25" cy="200.1" rx="3.3" ry="2.5" fill="#dcdcdc" stroke="#555555" stroke-width="1.3"/>
<ellipse cx="77.48" cy="213.05" rx="3.3" ry="2.5" fill="#dcdcdc" stroke="#555555" stroke-width="1.3"/>
<ellipse cx="91.87" cy="206.57" rx="3.3" ry="2.5" fill="#dcdcdc" stroke="#555555" stroke-width="1.3"/>
<ellipse cx="106.25" cy="277.8" rx="3.3" ry="2.5" fill="#dcdcdc" stroke="#555555" stroke-width="1.3"/>
<ellipse cx="91.87" cy="271.32" rx="3.3" ry="2.5" fill="#dcdcdc" stroke="#555555" stroke-width="1.3"/>
<ellipse cx="77.48" cy="264.85" rx="3.3" ry="2.5" fill="#dcdcdc" stroke="#555555" stroke-width="1.3"/>
<ellipse cx="149.4" cy="258.38" rx="3.3" ry="2.5" fill="#dcdcdc" stroke="#555555" stroke-width="1.3"/>
<ellipse cx="120.63" cy="271.32" rx="3.3" ry="2.5" fill="#dcdcdc" stroke="#555555" stroke-width="1.3"/>
<ellipse cx="135.02" cy="264.85" rx="3.3" ry="2.5" fill="#dcdcdc" stroke="#555555" stroke-width="1.3"/>
<ellipse cx="63.1" cy="102.97" rx="3.3" ry="2.5" fill="#dcdcdc" stroke="#555555" stroke-width="1.3"/>
<ellipse cx="63.1" cy="115.92" rx="3.3" ry="2.5" fill="#dcdcdc" stroke="#555555" stroke-width="1.3"/>
<ellipse cx="63.1" cy="128.88" rx="3.3" ry="2.5" fill="#dcdcdc" stroke="#555555" stroke-width="1.3"/>
<ellipse cx="48.72" cy="96.5" rx="3.3" ry="2.5" fill="#dcdcdc" stroke="#555555" stroke-width="1.3"/>
<ellipse cx="34.33" cy="90.02" rx="3.3" ry="2.5" fill="#dcdcdc" stroke="#555555" stroke-width="1.3"/>
<ellipse cx="106.25" cy="83.55" rx="3.3" ry="2.5" fill="#dcdcdc" stroke="#555555" stroke-width="1.3"/>
<ellipse cx="77.48" cy="96.5" rx="3.3" ry="2.5" fill="#dcdcdc" stroke="#555555" stroke-width="1.3"/>
<ellipse cx="91.87" cy="90.02" rx="3.3" ry="2.5" fill="#dcdcdc" stroke="#555555" stroke-width="1.3"/>
<ellipse cx="106.25" cy="161.25" rx="3.3" ry="2.5" fill="#dcdcdc" stroke="#555555" stroke-width="1.3"/>
<ellipse cx="106.25" cy="174.2" rx="3.3" ry="2.5" fill="#dcdcdc" stroke="#555555" stroke-width="1.3"/>
<ellipse cx="106.25" cy="187.15" rx="3.3" ry="2.5" fill="#dcdcdc" stroke="#555555" stroke-width="1.3"/>
<ellipse cx="91.87" cy="154.78" rx="3.3" ry="2.5" fill="#dcdcdc" stroke="#555555" stroke-width="1.3"/>
<ellipse cx="77.48" cy="148.3" rx="3.3" ry="2.5" fill="#dcdcdc" stroke="#555555" stroke-width="1.3"/>
<ellipse cx="149.4" cy="141.82" rx="3.3" ry="2.5" fill="#dcdcdc" stroke="#555555" stroke-width="1.3"/>
<ellipse cx="120.63" cy="154.78" rx="3.3" ry="2.5" fill="#dcdcdc" stroke="#555555" stroke-width="1.3"/>
<ellipse cx="135.02" cy="148.3" rx="3.3" ry="2.5" fill="#dcdcdc" stroke="#555555" stroke-width="1.3"/>
<ellipse cx="149.4" cy="219.53" rx="3.3" ry="2.5" fill="#dcdcdc" stroke="#555555" stroke-width="1.3"/>
<ellipse cx="149.4" cy="232.47" rx="3.3" ry="2.5" fill="#dcdcdc" stroke="#555555" stroke-width="1.3"/>
<ellipse cx="149.4" cy="245.43" rx="3.3" ry="2.5" fill="#dcdcdc" stroke="#555555" stroke-width="1.3"/>
<ellipse cx="135.02" cy="213.05" rx="3.3" ry="2.5" fill="#dcdcdc" stroke="#555555" stroke-width="1.3"/>
<ellipse cx="120.63" cy="206.57" rx="3.3" ry="2.5" fill="#dcdcdc" stroke="#555555" stroke-width="1.3"/>
<ellipse cx="192.55" cy="200.1" rx="3.3" ry="2.5" fill="#dcdcdc" stroke="#555555" stroke-width="1.3"/>
<ellipse cx="163.78" cy="213.05" rx="3.3" ry="2.5" fill="#dcdcdc" stroke="#555555" stroke-width="1.3"/>
<ellipse cx="178.17" cy="206.57" rx="3.3" ry="2.5" fill="#dcdcdc" stroke="#555555" stroke-width="1.3"/>
<ellipse cx="192.55" cy="277.8" rx="3.3" ry="2.5" fill="#dcdcdc" stroke="#555555" stroke-width="1.3"/>
<ellipse cx="178.17" cy="271.32" rx="3.3" ry="2.5" fill="#dcdcdc" stroke="#555555" stroke-width="1.3"/>
<ellipse cx="163.78" cy="264.85" rx="3.3" ry="2.5" fill="#dcdcdc" stroke="#555555" stroke-width="1.3"/>
<ellipse cx="235.7" cy="258.38" rx="3.3" ry="2.5" fill="#dcdcdc" stroke="#555555" stroke-width="1.3"/>
<ellipse cx="206.93" cy="271.32" rx="3.3" ry="2.5" fill="#dcdcdc" stroke="#555555" stroke-width="1.3"/>
<ellipse cx="221.32" cy="264.85" rx="3.3" ry="2.5" fill="#dcdcdc" stroke="#555555" stroke-width="1.3"/>
<ellipse cx="149.4" cy="102.97" rx="3.3" ry="2.5" fill="#dcdcdc" stroke="#555555" stroke-width="1.3"/>
<ellipse cx="149.4" cy="115.92" rx="3.3" ry="2.5" fill="#dcdcdc" stroke="#555555" stroke-width="1.3"/>
<ellipse cx="149.4" cy="128.88" rx="3.3" ry="2.5" fill="#dcdcdc" stroke="#555555" stroke-width="1.3"/>
<ellipse cx="135.02" cy="96.5" rx="3.3" ry="2.5" fill="#dcdcdc" stroke="#555555" stroke-width="1.3"/>
<ellipse cx="120.63" cy="90.02" rx="3.3" ry="2.5" fill="#dcdcdc" stroke="#555555" stroke-width="1.3"/>
<ellipse cx="192.55" cy="83.55" rx="3.3" ry="2.5" fill="#dcdcdc" stroke="#555555" stroke-width="1.3"/>
<ellipse cx="163.78" cy="96.5" rx="3.3" ry="2.5" fill="#dcdcdc" stroke="#555555" stroke-width="1.3"/>
<ellipse cx="178.17" cy="90.02" rx="3.3" ry="2.5" fill="#dcdcdc" stroke="#555555" stroke-width="1.3"/>
<ellipse cx="192.55" cy="161.25" rx="3.3" ry="2.5" fill="#dcdcdc" stroke="#555555" stroke-width="1.3"/>
<ellipse cx="192.55" cy="174.2" rx="3.3" ry="2.5" fill="#dcdcdc" stroke="#555555" stroke-width="1.3"/>
<ellipse cx="192.55" cy="187.15" rx="3.3" ry="2.5" fill="#dcdcdc" stroke="#555555" stroke-width="1.3"/>
<ellipse cx="178.17" cy="154.78" rx="3.3" ry="2.5" fill="#dcdcdc" stroke="#555555" stroke-width="1.3"/>
<ellipse cx="163.78" cy="148.3" rx="3.3" ry="2.5" fill="#dcdcdc" stroke="#555555" stroke-width="1.3"/>
<ellipse cx="235.7" cy="141.82" rx="3.3" ry="2.5" fill="#dcdcdc" stroke="#555555" stroke-width="1.3"/>
<ellipse cx="206.93" cy="154.78" rx="3.3" ry="2.5" fill="#dcdcdc" stroke="#555555" stroke-width="1.3"/>
<ellipse cx="221.32" cy="148.3" rx="3.3" ry="2.5" fill="#dcdcdc" stroke="#555555" stroke-width="1.3"/>
<ellipse cx="235.7" cy="219.53" rx="3.3" ry="2.5" fill="#dcdcdc" stroke="#555555" stroke-width="1.3"/>
<ellipse cx="235.7" cy="232.47" rx="3.3" ry="2.5" fill="#dcdcdc" stroke="#555555" stroke-width="1.3"/>
<ellipse cx="235.7" cy="245.43" rx="3.3" ry="2.5" fill="#dcdcdc" stroke="#555555" stroke-width="1.3"/>
<ellipse cx="221.32" cy="213.05" rx="3.3" ry="2.5" fill="#dcdcdc" stroke="#555555" stroke-width="1.3"/>
<ellipse cx="206.93" cy="206.57" rx="3.3" ry="2.5" fill="#dcdcdc" stroke="#555555" stroke-width="1.3"/>
<ellipse cx="278.85" cy="200.1" rx="3.3" ry="2.5" fill="#dcdcdc" stroke="#555555" stroke-width="1.3"/>
<ellipse cx="250.08" cy="213.05" rx="3.3" ry="2.5" fill="#dcdcdc" stroke="#555555" stroke-width="1.3"/>
<ellipse cx="264.47" cy="206.57" rx="3.3" ry="2.5" fill="#dcdcdc" stroke="#555555" stroke-width="1.3"/>
<ellipse cx="278.85" cy="277.8" rx="3.3" ry="2.5" fill="#dcdcdc" stroke="#555555" stroke-width="1.3"/>
<ellipse cx="264.47" cy="271.32" rx="3.3" ry="2.5" fill="#dcdcdc" stroke="#555555" stroke-width="1.3"/>
<ellipse cx="250.08" cy="264.85" rx="3.3" ry="2.5" fill="#dcdcdc" stroke="#555555" stroke-width="1.3"/>
<ellipse cx="322" cy="258.38" rx="3.3" ry="2.5" fill="#dcdcdc" stroke="#555555" stroke-width="1.3"/>
<ellipse cx="293.23" cy="271.32" rx="3.3" ry="2.5" fill="#dcdcdc" stroke="#555555" stroke-width="1.3"/>
<ellipse cx="307.62" cy="264.85" rx="3.3" ry="2.5" fill="#dcdcdc" stroke="#555555" stroke-width="1.3"/>
<ellipse cx="235.7" cy="102.97" rx="3.3" ry="2.5" fill="#dcdcdc" stroke="#555555" stroke-width="1.3"/>
<ellipse cx="235.7" cy="115.92" rx="3.3" ry="2.5" fill="#dcdcdc" stroke="#555555" stroke-width="1.3"/>
<ellipse cx="235.7" cy="128.88" rx="3.3" ry="2.5" fill="#dcdcdc" stroke="#555555" stroke-width="1.3"/>
<ellipse cx="221.32" cy="96.5" rx="3.3" ry="2.5" fill="#dcdcdc" stroke="#555555" stroke-width="1.3"/>
<ellipse cx="206.93" cy="90.02" rx="3.3" ry="2.5" fill="#dcdcdc" stroke="#555555" stroke-width="1.3"/>
<ellipse cx="278.85" cy="83.55" rx="3.3" ry="2.5" fill="#dcdcdc" stroke="#555555" stroke-width="1.3"/>
<ellipse cx="250.08" cy="96.5" rx="3.3" ry="2.5" fill="#dcdcdc" stroke="#555555" stroke-width="1.3"/>
<ellipse cx="264.47" cy="90.02" rx="3.3" ry="2.5" fill="#dcdcdc" stroke="#555555" stroke-width="1.3"/>
<ellipse cx="278.85" cy="161.25" rx="3.3" ry="2.5" fill="#dcdcdc" stroke="#555555" stroke-width="1.3"/>
<ellipse cx="278.85" cy="174.2" rx="3.3" ry="2.5" fill="#dcdcdc" stroke="#555555" stroke-width="1.3"/>
<ellipse cx="278.85" cy="187.15" rx="3.3" ry="2.5" fill="#dcdcdc" stroke="#555555" stroke-width="1.3"/>
<ellipse cx="264.47" cy="154.78" rx="3.3" ry="2.5" fill="#dcdcdc" stroke="#555555" stroke-width="1.3"/>
<ellipse cx="250.08" cy="148.3" rx="3.3" ry="2.5" fill="#dcdcdc" stroke="#555555" stroke-width="1.3"/>
<ellipse cx="322" cy="141.82" rx="3.3" ry="2.5" fill="#dcdcdc" stroke="#555555" stroke-width="1.3"/>
<ellipse cx="293.23" cy="154.78" rx="3.3" ry="2.5" fill="#dcdcdc" stroke="#555555" stroke-width="1.3"/>
<ellipse cx="307.62" cy="148.3" rx="3.3" ry="2.5" fill="#dcdcdc" stroke="#555555" stroke-width="1.3"/>
<ellipse cx="322" cy="219.53" rx="3.3" ry="2.5" fill="#dcdcdc" stroke="#555555" stroke-width="1.3"/>
<ellipse cx="307.62" cy="213.05" rx="3.3" ry="2.5" fill="#dcdcdc" stroke="#555555" stroke-width="1.3"/>
<ellipse cx="293.23" cy="206.57" rx="3.3" ry="2.5" fill="#dcdcdc" stroke="#555555" stroke-width="1.3"/>
<ellipse cx="322" cy="102.97" rx="3.3" ry="2.5" fill="#dcdcdc" stroke="#555555" stroke-width="1.3"/>
<ellipse cx="307.62" cy="96.5" rx="3.3" ry="2.5" fill="#dcdcdc" stroke="#555555" stroke-width="1.3"/>
<ellipse cx="293.23" cy="90.02" rx="3.3" ry="2.5" fill="#dcdcdc" stroke="#555555" stroke-width="1.3"/>
</g>
<rect x="44.7" y="134.0" width="216.50" height="95.70" fill="none" stroke="#000" stroke-width="2.2"/>
<clipPath id="clip3"><rect x="44.7" y="248.2" width="216.5" height="92.44999999999999"/></clipPath>
<g clip-path="url(#clip3)">
<path d="M0.9 405.4L46.45 384.65 M0.9 280.9L0.9 322.4 M0.9 280.9L46.45 260.15 M46.45 343.15L46.45 384.65 M46.45 343.15L0.9 322.4 M46.45 343.15L92 322.4 M92 405.4L46.45 384.65 M92 405.4L137.55 384.65 M46.45 218.65L46.45 260.15 M46.45 218.65L0.9 197.9 M46.45 218.65L92 197.9 M92 280.9L92 322.4 M92 280.9L46.45 260.15 M92 280.9L137.55 260.15 M137.55 343.15L137.55 384.65 M137.55 343.15L92 322.4 M137.55 343.15L183.1 322.4 M183.1 405.4L137.55 384.65 M183.1 405.4L228.65 384.65 M137.55 218.65L137.55 260.15 M137.55 218.65L92 197.9 M137.55 218.65L183.1 197.9 M183.1 280.9L183.1 322.4 M183.1 280.9L137.55 260.15 M183.1 280.9L228.65 260.15 M228.65 343.15L228.65 384.65 M228.65 343.15L183.1 322.4 M228.65 343.15L274.2 322.4 M274.2 405.4L228.65 384.65 M274.2 405.4L319.75 384.65 M228.65 218.65L228.65 260.15 M228.65 218.65L183.1 197.9 M228.65 218.65L274.2 197.9 M274.2 280.9L274.2 322.4 M274.2 280.9L228.65 260.15 M274.2 280.9L319.75 260.15 M319.75 343.15L319.75 384.65 M319.75 343.15L274.2 322.4 M319.75 218.65L319.75 260.15 M319.75 218.65L274.2 197.9" stroke="#e2de00" stroke-width="2.4" fill="none"/>
<path d="M0.9 405.4L46.45 384.65 M0.9 280.9L0.9 322.4 M0.9 280.9L46.45 260.15 M46.45 343.15L46.45 384.65 M46.45 343.15L0.9 322.4 M46.45 343.15L92 322.4 M92 405.4L46.45 384.65 M92 405.4L137.55 384.65 M46.45 218.65L46.45 260.15 M46.45 218.65L0.9 197.9 M46.45 218.65L92 197.9 M92 280.9L92 322.4 M92 280.9L46.45 260.15 M92 280.9L137.55 260.15 M137.55 343.15L137.55 384.65 M137.55 343.15L92 322.4 M137.55 343.15L183.1 322.4 M183.1 405.4L137.55 384.65 M183.1 405.4L228.65 384.65 M137.55 218.65L137.55 260.15 M137.55 218.65L92 197.9 M137.55 218.65L183.1 197.9 M183.1 280.9L183.1 322.4 M183.1 280.9L137.55 260.15 M183.1 280.9L228.65 260.15 M228.65 343.15L228.65 384.65 M228.65 343.15L183.1 322.4 M228.65 343.15L274.2 322.4 M274.2 405.4L228.65 384.65 M274.2 405.4L319.75 384.65 M228.65 218.65L228.65 260.15 M228.65 218.65L183.1 197.9 M228.65 218.65L274.2 197.9 M274.2 280.9L274.2 322.4 M274.2 280.9L228.65 260.15 M274.2 280.9L319.75 260.15 M319.75 343.15L319.75 384.65 M319.75 343.15L274.2 322.4 M319.75 218.65L319.75 260.15 M319.75 218.65L274.2 197.9" stroke="#f0ec70" stroke-width="0.7" fill="none"/>
<ellipse cx="0.9" cy="405.4" rx="3.8" ry="3.0" fill="url(#ygrad2)" stroke="#d0cc00" stroke-width="0.6"/>
<ellipse cx="46.45" cy="384.65" rx="3.8" ry="3.0" fill="url(#ygrad2)" stroke="#d0cc00" stroke-width="0.6"/>
<ellipse cx="16.08" cy="398.48" rx="3.8" ry="3.0" fill="url(#ygrad2)" stroke="#d0cc00" stroke-width="0.6"/>
<ellipse cx="31.27" cy="391.57" rx="3.8" ry="3.0" fill="url(#ygrad2)" stroke="#d0cc00" stroke-width="0.6"/>
<ellipse cx="0.9" cy="280.9" rx="3.8" ry="3.0" fill="url(#ygrad2)" stroke="#d0cc00" stroke-width="0.6"/>
<ellipse cx="0.9" cy="322.4" rx="3.8" ry="3.0" fill="url(#ygrad2)" stroke="#d0cc00" stroke-width="0.6"/>
<ellipse cx="0.9" cy="294.73" rx="3.8" ry="3.0" fill="url(#ygrad2)" stroke="#d0cc00" stroke-width="0.6"/>
<ellipse cx="0.9" cy="308.57" rx="3.8" ry="3.0" fill="url(#ygrad2)" stroke="#d0cc00" stroke-width="0.6"/>
<ellipse cx="46.45" cy="260.15" rx="3.8" ry="3.0" fill="url(#ygrad2)" stroke="#d0cc00" stroke-width="0.6"/>
<ellipse cx="16.08" cy="273.98" rx="3.8" ry="3.0" fill="url(#ygrad2)" stroke="#d0cc00" stroke-width="0.6"/>
<ellipse cx="31.27" cy="267.07" rx="3.8" ry="3.0" fill="url(#ygrad2)" stroke="#d0cc00" stroke-width="0.6"/>
<ellipse cx="46.45" cy="343.15" rx="3.8" ry="3.0" fill="url(#ygrad2)" stroke="#d0cc00" stroke-width="0.6"/>
<ellipse cx="46.45" cy="356.98" rx="3.8" ry="3.0" fill="url(#ygrad2)" stroke="#d0cc00" stroke-width="0.6"/>
<ellipse cx="46.45" cy="370.82" rx="3.8" ry="3.0" fill="url(#ygrad2)" stroke="#d0cc00" stroke-width="0.6"/>
<ellipse cx="31.27" cy="336.23" rx="3.8" ry="3.0" fill="url(#ygrad2)" stroke="#d0cc00" stroke-width="0.6"/>
<ellipse cx="16.08" cy="329.32" rx="3.8" ry="3.0" fill="url(#ygrad2)" stroke="#d0cc00" stroke-width="0.6"/>
<ellipse cx="92" cy="322.4" rx="3.8" ry="3.0" fill="url(#ygrad2)" stroke="#d0cc00" stroke-width="0.6"/>
<ellipse cx="61.63" cy="336.23" rx="3.8" ry="3.0" fill="url(#ygrad2)" stroke="#d0cc00" stroke-width="0.6"/>
<ellipse cx="76.82" cy="329.32" rx="3.8" ry="3.0" fill="url(#ygrad2)" stroke="#d0cc00" stroke-width="0.6"/>
<ellipse cx="92" cy="405.4" rx="3.8" ry="3.0" fill="url(#ygrad2)" stroke="#d0cc00" stroke-width="0.6"/>
<ellipse cx="76.82" cy="398.48" rx="3.8" ry="3.0" fill="url(#ygrad2)" stroke="#d0cc00" stroke-width="0.6"/>
<ellipse cx="61.63" cy="391.57" rx="3.8" ry="3.0" fill="url(#ygrad2)" stroke="#d0cc00" stroke-width="0.6"/>
<ellipse cx="137.55" cy="384.65" rx="3.8" ry="3.0" fill="url(#ygrad2)" stroke="#d0cc00" stroke-width="0.6"/>
<ellipse cx="107.18" cy="398.48" rx="3.8" ry="3.0" fill="url(#ygrad2)" stroke="#d0cc00" stroke-width="0.6"/>
<ellipse cx="122.37" cy="391.57" rx="3.8" ry="3.0" fill="url(#ygrad2)" stroke="#d0cc00" stroke-width="0.6"/>
<ellipse cx="46.45" cy="218.65" rx="3.8" ry="3.0" fill="url(#ygrad2)" stroke="#d0cc00" stroke-width="0.6"/>
<ellipse cx="46.45" cy="232.48" rx="3.8" ry="3.0" fill="url(#ygrad2)" stroke="#d0cc00" stroke-width="0.6"/>
<ellipse cx="46.45" cy="246.32" rx="3.8" ry="3.0" fill="url(#ygrad2)" stroke="#d0cc00" stroke-width="0.6"/>
<ellipse cx="0.9" cy="197.9" rx="3.8" ry="3.0" fill="url(#ygrad2)" stroke="#d0cc00" stroke-width="0.6"/>
<ellipse cx="31.27" cy="211.73" rx="3.8" ry="3.0" fill="url(#ygrad2)" stroke="#d0cc00" stroke-width="0.6"/>
<ellipse cx="16.08" cy="204.82" rx="3.8" ry="3.0" fill="url(#ygrad2)" stroke="#d0cc00" stroke-width="0.6"/>
<ellipse cx="92" cy="197.9" rx="3.8" ry="3.0" fill="url(#ygrad2)" stroke="#d0cc00" stroke-width="0.6"/>
<ellipse cx="61.63" cy="211.73" rx="3.8" ry="3.0" fill="url(#ygrad2)" stroke="#d0cc00" stroke-width="0.6"/>
<ellipse cx="76.82" cy="204.82" rx="3.8" ry="3.0" fill="url(#ygrad2)" stroke="#d0cc00" stroke-width="0.6"/>
<ellipse cx="92" cy="280.9" rx="3.8" ry="3.0" fill="url(#ygrad2)" stroke="#d0cc00" stroke-width="0.6"/>
<ellipse cx="92" cy="294.73" rx="3.8" ry="3.0" fill="url(#ygrad2)" stroke="#d0cc00" stroke-width="0.6"/>
<ellipse cx="92" cy="308.57" rx="3.8" ry="3.0" fill="url(#ygrad2)" stroke="#d0cc00" stroke-width="0.6"/>
<ellipse cx="76.82" cy="273.98" rx="3.8" ry="3.0" fill="url(#ygrad2)" stroke="#d0cc00" stroke-width="0.6"/>
<ellipse cx="61.63" cy="267.07" rx="3.8" ry="3.0" fill="url(#ygrad2)" stroke="#d0cc00" stroke-width="0.6"/>
<ellipse cx="137.55" cy="260.15" rx="3.8" ry="3.0" fill="url(#ygrad2)" stroke="#d0cc00" stroke-width="0.6"/>
<ellipse cx="107.18" cy="273.98" rx="3.8" ry="3.0" fill="url(#ygrad2)" stroke="#d0cc00" stroke-width="0.6"/>
<ellipse cx="122.37" cy="267.07" rx="3.8" ry="3.0" fill="url(#ygrad2)" stroke="#d0cc00" stroke-width="0.6"/>
<ellipse cx="137.55" cy="343.15" rx="3.8" ry="3.0" fill="url(#ygrad2)" stroke="#d0cc00" stroke-width="0.6"/>
<ellipse cx="137.55" cy="356.98" rx="3.8" ry="3.0" fill="url(#ygrad2)" stroke="#d0cc00" stroke-width="0.6"/>
<ellipse cx="137.55" cy="370.82" rx="3.8" ry="3.0" fill="url(#ygrad2)" stroke="#d0cc00" stroke-width="0.6"/>
<ellipse cx="122.37" cy="336.23" rx="3.8" ry="3.0" fill="url(#ygrad2)" stroke="#d0cc00" stroke-width="0.6"/>
<ellipse cx="107.18" cy="329.32" rx="3.8" ry="3.0" fill="url(#ygrad2)" stroke="#d0cc00" stroke-width="0.6"/>
<ellipse cx="183.1" cy="322.4" rx="3.8" ry="3.0" fill="url(#ygrad2)" stroke="#d0cc00" stroke-width="0.6"/>
<ellipse cx="152.73" cy="336.23" rx="3.8" ry="3.0" fill="url(#ygrad2)" stroke="#d0cc00" stroke-width="0.6"/>
<ellipse cx="167.92" cy="329.32" rx="3.8" ry="3.0" fill="url(#ygrad2)" stroke="#d0cc00" stroke-width="0.6"/>
<ellipse cx="183.1" cy="405.4" rx="3.8" ry="3.0" fill="url(#ygrad2)" stroke="#d0cc00" stroke-width="0.6"/>
<ellipse cx="167.92" cy="398.48" rx="3.8" ry="3.0" fill="url(#ygrad2)" stroke="#d0cc00" stroke-width="0.6"/>
<ellipse cx="152.73" cy="391.57" rx="3.8" ry="3.0" fill="url(#ygrad2)" stroke="#d0cc00" stroke-width="0.6"/>
<ellipse cx="228.65" cy="384.65" rx="3.8" ry="3.0" fill="url(#ygrad2)" stroke="#d0cc00" stroke-width="0.6"/>
<ellipse cx="198.28" cy="398.48" rx="3.8" ry="3.0" fill="url(#ygrad2)" stroke="#d0cc00" stroke-width="0.6"/>
<ellipse cx="213.47" cy="391.57" rx="3.8" ry="3.0" fill="url(#ygrad2)" stroke="#d0cc00" stroke-width="0.6"/>
<ellipse cx="137.55" cy="218.65" rx="3.8" ry="3.0" fill="url(#ygrad2)" stroke="#d0cc00" stroke-width="0.6"/>
<ellipse cx="137.55" cy="232.48" rx="3.8" ry="3.0" fill="url(#ygrad2)" stroke="#d0cc00" stroke-width="0.6"/>
<ellipse cx="137.55" cy="246.32" rx="3.8" ry="3.0" fill="url(#ygrad2)" stroke="#d0cc00" stroke-width="0.6"/>
<ellipse cx="122.37" cy="211.73" rx="3.8" ry="3.0" fill="url(#ygrad2)" stroke="#d0cc00" stroke-width="0.6"/>
<ellipse cx="107.18" cy="204.82" rx="3.8" ry="3.0" fill="url(#ygrad2)" stroke="#d0cc00" stroke-width="0.6"/>
<ellipse cx="183.1" cy="197.9" rx="3.8" ry="3.0" fill="url(#ygrad2)" stroke="#d0cc00" stroke-width="0.6"/>
<ellipse cx="152.73" cy="211.73" rx="3.8" ry="3.0" fill="url(#ygrad2)" stroke="#d0cc00" stroke-width="0.6"/>
<ellipse cx="167.92" cy="204.82" rx="3.8" ry="3.0" fill="url(#ygrad2)" stroke="#d0cc00" stroke-width="0.6"/>
<ellipse cx="183.1" cy="280.9" rx="3.8" ry="3.0" fill="url(#ygrad2)" stroke="#d0cc00" stroke-width="0.6"/>
<ellipse cx="183.1" cy="294.73" rx="3.8" ry="3.0" fill="url(#ygrad2)" stroke="#d0cc00" stroke-width="0.6"/>
<ellipse cx="183.1" cy="308.57" rx="3.8" ry="3.0" fill="url(#ygrad2)" stroke="#d0cc00" stroke-width="0.6"/>
<ellipse cx="167.92" cy="273.98" rx="3.8" ry="3.0" fill="url(#ygrad2)" stroke="#d0cc00" stroke-width="0.6"/>
<ellipse cx="152.73" cy="267.07" rx="3.8" ry="3.0" fill="url(#ygrad2)" stroke="#d0cc00" stroke-width="0.6"/>
<ellipse cx="228.65" cy="260.15" rx="3.8" ry="3.0" fill="url(#ygrad2)" stroke="#d0cc00" stroke-width="0.6"/>
<ellipse cx="198.28" cy="273.98" rx="3.8" ry="3.0" fill="url(#ygrad2)" stroke="#d0cc00" stroke-width="0.6"/>
<ellipse cx="213.47" cy="267.07" rx="3.8" ry="3.0" fill="url(#ygrad2)" stroke="#d0cc00" stroke-width="0.6"/>
<ellipse cx="228.65" cy="343.15" rx="3.8" ry="3.0" fill="url(#ygrad2)" stroke="#d0cc00" stroke-width="0.6"/>
<ellipse cx="228.65" cy="356.98" rx="3.8" ry="3.0" fill="url(#ygrad2)" stroke="#d0cc00" stroke-width="0.6"/>
<ellipse cx="228.65" cy="370.82" rx="3.8" ry="3.0" fill="url(#ygrad2)" stroke="#d0cc00" stroke-width="0.6"/>
<ellipse cx="213.47" cy="336.23" rx="3.8" ry="3.0" fill="url(#ygrad2)" stroke="#d0cc00" stroke-width="0.6"/>
<ellipse cx="198.28" cy="329.32" rx="3.8" ry="3.0" fill="url(#ygrad2)" stroke="#d0cc00" stroke-width="0.6"/>
<ellipse cx="274.2" cy="322.4" rx="3.8" ry="3.0" fill="url(#ygrad2)" stroke="#d0cc00" stroke-width="0.6"/>
<ellipse cx="243.83" cy="336.23" rx="3.8" ry="3.0" fill="url(#ygrad2)" stroke="#d0cc00" stroke-width="0.6"/>
<ellipse cx="259.02" cy="329.32" rx="3.8" ry="3.0" fill="url(#ygrad2)" stroke="#d0cc00" stroke-width="0.6"/>
<ellipse cx="274.2" cy="405.4" rx="3.8" ry="3.0" fill="url(#ygrad2)" stroke="#d0cc00" stroke-width="0.6"/>
<ellipse cx="259.02" cy="398.48" rx="3.8" ry="3.0" fill="url(#ygrad2)" stroke="#d0cc00" stroke-width="0.6"/>
<ellipse cx="243.83" cy="391.57" rx="3.8" ry="3.0" fill="url(#ygrad2)" stroke="#d0cc00" stroke-width="0.6"/>
<ellipse cx="319.75" cy="384.65" rx="3.8" ry="3.0" fill="url(#ygrad2)" stroke="#d0cc00" stroke-width="0.6"/>
<ellipse cx="289.38" cy="398.48" rx="3.8" ry="3.0" fill="url(#ygrad2)" stroke="#d0cc00" stroke-width="0.6"/>
<ellipse cx="304.57" cy="391.57" rx="3.8" ry="3.0" fill="url(#ygrad2)" stroke="#d0cc00" stroke-width="0.6"/>
<ellipse cx="228.65" cy="218.65" rx="3.8" ry="3.0" fill="url(#ygrad2)" stroke="#d0cc00" stroke-width="0.6"/>
<ellipse cx="228.65" cy="232.48" rx="3.8" ry="3.0" fill="url(#ygrad2)" stroke="#d0cc00" stroke-width="0.6"/>
<ellipse cx="228.65" cy="246.32" rx="3.8" ry="3.0" fill="url(#ygrad2)" stroke="#d0cc00" stroke-width="0.6"/>
<ellipse cx="213.47" cy="211.73" rx="3.8" ry="3.0" fill="url(#ygrad2)" stroke="#d0cc00" stroke-width="0.6"/>
<ellipse cx="198.28" cy="204.82" rx="3.8" ry="3.0" fill="url(#ygrad2)" stroke="#d0cc00" stroke-width="0.6"/>
<ellipse cx="274.2" cy="197.9" rx="3.8" ry="3.0" fill="url(#ygrad2)" stroke="#d0cc00" stroke-width="0.6"/>
<ellipse cx="243.83" cy="211.73" rx="3.8" ry="3.0" fill="url(#ygrad2)" stroke="#d0cc00" stroke-width="0.6"/>
<ellipse cx="259.02" cy="204.82" rx="3.8" ry="3.0" fill="url(#ygrad2)" stroke="#d0cc00" stroke-width="0.6"/>
<ellipse cx="274.2" cy="280.9" rx="3.8" ry="3.0" fill="url(#ygrad2)" stroke="#d0cc00" stroke-width="0.6"/>
<ellipse cx="274.2" cy="294.73" rx="3.8" ry="3.0" fill="url(#ygrad2)" stroke="#d0cc00" stroke-width="0.6"/>
<ellipse cx="274.2" cy="308.57" rx="3.8" ry="3.0" fill="url(#ygrad2)" stroke="#d0cc00" stroke-width="0.6"/>
<ellipse cx="259.02" cy="273.98" rx="3.8" ry="3.0" fill="url(#ygrad2)" stroke="#d0cc00" stroke-width="0.6"/>
<ellipse cx="243.83" cy="267.07" rx="3.8" ry="3.0" fill="url(#ygrad2)" stroke="#d0cc00" stroke-width="0.6"/>
<ellipse cx="319.75" cy="260.15" rx="3.8" ry="3.0" fill="url(#ygrad2)" stroke="#d0cc00" stroke-width="0.6"/>
<ellipse cx="289.38" cy="273.98" rx="3.8" ry="3.0" fill="url(#ygrad2)" stroke="#d0cc00" stroke-width="0.6"/>
<ellipse cx="304.57" cy="267.07" rx="3.8" ry="3.0" fill="url(#ygrad2)" stroke="#d0cc00" stroke-width="0.6"/>
<ellipse cx="319.75" cy="343.15" rx="3.8" ry="3.0" fill="url(#ygrad2)" stroke="#d0cc00" stroke-width="0.6"/>
<ellipse cx="319.75" cy="356.98" rx="3.8" ry="3.0" fill="url(#ygrad2)" stroke="#d0cc00" stroke-width="0.6"/>
<ellipse cx="319.75" cy="370.82" rx="3.8" ry="3.0" fill="url(#ygrad2)" stroke="#d0cc00" stroke-width="0.6"/>
<ellipse cx="304.57" cy="336.23" rx="3.8" ry="3.0" fill="url(#ygrad2)" stroke="#d0cc00" stroke-width="0.6"/>
<ellipse cx="289.38" cy="329.32" rx="3.8" ry="3.0" fill="url(#ygrad2)" stroke="#d0cc00" stroke-width="0.6"/>
<ellipse cx="319.75" cy="218.65" rx="3.8" ry="3.0" fill="url(#ygrad2)" stroke="#d0cc00" stroke-width="0.6"/>
<ellipse cx="319.75" cy="232.48" rx="3.8" ry="3.0" fill="url(#ygrad2)" stroke="#d0cc00" stroke-width="0.6"/>
<ellipse cx="319.75" cy="246.32" rx="3.8" ry="3.0" fill="url(#ygrad2)" stroke="#d0cc00" stroke-width="0.6"/>
<ellipse cx="304.57" cy="211.73" rx="3.8" ry="3.0" fill="url(#ygrad2)" stroke="#d0cc00" stroke-width="0.6"/>
<ellipse cx="289.38" cy="204.82" rx="3.8" ry="3.0" fill="url(#ygrad2)" stroke="#d0cc00" stroke-width="0.6"/>
<path d="M-29.05 336.45L16.5 315.7 M16.5 398.7L-29.05 377.95 M16.5 398.7L62.05 377.95 M-29.05 211.95L16.5 191.2 M16.5 274.2L16.5 315.7 M16.5 274.2L-29.05 253.45 M16.5 274.2L62.05 253.45 M62.05 336.45L62.05 377.95 M62.05 336.45L16.5 315.7 M62.05 336.45L107.6 315.7 M107.6 398.7L62.05 377.95 M107.6 398.7L153.15 377.95 M62.05 211.95L62.05 253.45 M62.05 211.95L16.5 191.2 M62.05 211.95L107.6 191.2 M107.6 274.2L107.6 315.7 M107.6 274.2L62.05 253.45 M107.6 274.2L153.15 253.45 M153.15 336.45L153.15 377.95 M153.15 336.45L107.6 315.7 M153.15 336.45L198.7 315.7 M198.7 398.7L153.15 377.95 M198.7 398.7L244.25 377.95 M153.15 211.95L153.15 253.45 M153.15 211.95L107.6 191.2 M153.15 211.95L198.7 191.2 M198.7 274.2L198.7 315.7 M198.7 274.2L153.15 253.45 M198.7 274.2L244.25 253.45 M244.25 336.45L244.25 377.95 M244.25 336.45L198.7 315.7 M244.25 336.45L289.8 315.7 M289.8 398.7L244.25 377.95 M289.8 398.7L335.35 377.95 M244.25 211.95L244.25 253.45 M244.25 211.95L198.7 191.2 M244.25 211.95L289.8 191.2 M289.8 274.2L289.8 315.7 M289.8 274.2L244.25 253.45 M289.8 274.2L335.35 253.45 M335.35 336.45L289.8 315.7 M335.35 211.95L289.8 191.2" stroke="#8c8c8c" stroke-width="2.8" fill="none"/>
<path d="M-29.05 336.45L16.5 315.7 M16.5 398.7L-29.05 377.95 M16.5 398.7L62.05 377.95 M-29.05 211.95L16.5 191.2 M16.5 274.2L16.5 315.7 M16.5 274.2L-29.05 253.45 M16.5 274.2L62.05 253.45 M62.05 336.45L62.05 377.95 M62.05 336.45L16.5 315.7 M62.05 336.45L107.6 315.7 M107.6 398.7L62.05 377.95 M107.6 398.7L153.15 377.95 M62.05 211.95L62.05 253.45 M62.05 211.95L16.5 191.2 M62.05 211.95L107.6 191.2 M107.6 274.2L107.6 315.7 M107.6 274.2L62.05 253.45 M107.6 274.2L153.15 253.45 M153.15 336.45L153.15 377.95 M153.15 336.45L107.6 315.7 M153.15 336.45L198.7 315.7 M198.7 398.7L153.15 377.95 M198.7 398.7L244.25 377.95 M153.15 211.95L153.15 253.45 M153.15 211.95L107.6 191.2 M153.15 211.95L198.7 191.2 M198.7 274.2L198.7 315.7 M198.7 274.2L153.15 253.45 M198.7 274.2L244.25 253.45 M244.25 336.45L244.25 377.95 M244.25 336.45L198.7 315.7 M244.25 336.45L289.8 315.7 M289.8 398.7L244.25 377.95 M289.8 398.7L335.35 377.95 M244.25 211.95L244.25 253.45 M244.25 211.95L198.7 191.2 M244.25 211.95L289.8 191.2 M289.8 274.2L289.8 315.7 M289.8 274.2L244.25 253.45 M289.8 274.2L335.35 253.45 M335.35 336.45L289.8 315.7 M335.35 211.95L289.8 191.2" stroke="#dadada" stroke-width="0.9" fill="none"/>
<ellipse cx="-29.05" cy="336.45" rx="3.3" ry="2.5" fill="#dcdcdc" stroke="#555555" stroke-width="1.3"/>
<ellipse cx="16.5" cy="315.7" rx="3.3" ry="2.5" fill="#dcdcdc" stroke="#555555" stroke-width="1.3"/>
<ellipse cx="-13.87" cy="329.53" rx="3.3" ry="2.5" fill="#dcdcdc" stroke="#555555" stroke-width="1.3"/>
<ellipse cx="1.32" cy="322.62" rx="3.3" ry="2.5" fill="#dcdcdc" stroke="#555555" stroke-width="1.3"/>
<ellipse cx="16.5" cy="398.7" rx="3.3" ry="2.5" fill="#dcdcdc" stroke="#555555" stroke-width="1.3"/>
<ellipse cx="-29.05" cy="377.95" rx="3.3" ry="2.5" fill="#dcdcdc" stroke="#555555" stroke-width="1.3"/>
<ellipse cx="1.32" cy="391.78" rx="3.3" ry="2.5" fill="#dcdcdc" stroke="#555555" stroke-width="1.3"/>
<ellipse cx="-13.87" cy="384.87" rx="3.3" ry="2.5" fill="#dcdcdc" stroke="#555555" stroke-width="1.3"/>
<ellipse cx="62.05" cy="377.95" rx="3.3" ry="2.5" fill="#dcdcdc" stroke="#555555" stroke-width="1.3"/>
<ellipse cx="31.68" cy="391.78" rx="3.3" ry="2.5" fill="#dcdcdc" stroke="#555555" stroke-width="1.3"/>
<ellipse cx="46.87" cy="384.87" rx="3.3" ry="2.5" fill="#dcdcdc" stroke="#555555" stroke-width="1.3"/>
<ellipse cx="-29.05" cy="211.95" rx="3.3" ry="2.5" fill="#dcdcdc" stroke="#555555" stroke-width="1.3"/>
<ellipse cx="16.5" cy="191.2" rx="3.3" ry="2.5" fill="#dcdcdc" stroke="#555555" stroke-width="1.3"/>
<ellipse cx="-13.87" cy="205.03" rx="3.3" ry="2.5" fill="#dcdcdc" stroke="#555555" stroke-width="1.3"/>
<ellipse cx="1.32" cy="198.12" rx="3.3" ry="2.5" fill="#dcdcdc" stroke="#555555" stroke-width="1.3"/>
<ellipse cx="16.5" cy="274.2" rx="3.3" ry="2.5" fill="#dcdcdc" stroke="#555555" stroke-width="1.3"/>
<ellipse cx="16.5" cy="288.03" rx="3.3" ry="2.5" fill="#dcdcdc" stroke="#555555" stroke-width="1.3"/>
<ellipse cx="16.5" cy="301.87" rx="3.3" ry="2.5" fill="#dcdcdc" stroke="#555555" stroke-width="1.3"/>
<ellipse cx="-29.05" cy="253.45" rx="3.3" ry="2.5" fill="#dcdcdc" stroke="#555555" stroke-width="1.3"/>
<ellipse cx="1.32" cy="267.28" rx="3.3" ry="2.5" fill="#dcdcdc" stroke="#555555" stroke-width="1.3"/>
<ellipse cx="-13.87" cy="260.37" rx="3.3" ry="2.5" fill="#dcdcdc" stroke="#555555" stroke-width="1.3"/>
<ellipse cx="62.05" cy="253.45" rx="3.3" ry="2.5" fill="#dcdcdc" stroke="#555555" stroke-width="1.3"/>
<ellipse cx="31.68" cy="267.28" rx="3.3" ry="2.5" fill="#dcdcdc" stroke="#555555" stroke-width="1.3"/>
<ellipse cx="46.87" cy="260.37" rx="3.3" ry="2.5" fill="#dcdcdc" stroke="#555555" stroke-width="1.3"/>
<ellipse cx="62.05" cy="336.45" rx="3.3" ry="2.5" fill="#dcdcdc" stroke="#555555" stroke-width="1.3"/>
<ellipse cx="62.05" cy="350.28" rx="3.3" ry="2.5" fill="#dcdcdc" stroke="#555555" stroke-width="1.3"/>
<ellipse cx="62.05" cy="364.12" rx="3.3" ry="2.5" fill="#dcdcdc" stroke="#555555" stroke-width="1.3"/>
<ellipse cx="46.87" cy="329.53" rx="3.3" ry="2.5" fill="#dcdcdc" stroke="#555555" stroke-width="1.3"/>
<ellipse cx="31.68" cy="322.62" rx="3.3" ry="2.5" fill="#dcdcdc" stroke="#555555" stroke-width="1.3"/>
<ellipse cx="107.6" cy="315.7" rx="3.3" ry="2.5" fill="#dcdcdc" stroke="#555555" stroke-width="1.3"/>
<ellipse cx="77.23" cy="329.53" rx="3.3" ry="2.5" fill="#dcdcdc" stroke="#555555" stroke-width="1.3"/>
<ellipse cx="92.42" cy="322.62" rx="3.3" ry="2.5" fill="#dcdcdc" stroke="#555555" stroke-width="1.3"/>
<ellipse cx="107.6" cy="398.7" rx="3.3" ry="2.5" fill="#dcdcdc" stroke="#555555" stroke-width="1.3"/>
<ellipse cx="92.42" cy="391.78" rx="3.3" ry="2.5" fill="#dcdcdc" stroke="#555555" stroke-width="1.3"/>
<ellipse cx="77.23" cy="384.87" rx="3.3" ry="2.5" fill="#dcdcdc" stroke="#555555" stroke-width="1.3"/>
<ellipse cx="153.15" cy="377.95" rx="3.3" ry="2.5" fill="#dcdcdc" stroke="#555555" stroke-width="1.3"/>
<ellipse cx="122.78" cy="391.78" rx="3.3" ry="2.5" fill="#dcdcdc" stroke="#555555" stroke-width="1.3"/>
<ellipse cx="137.97" cy="384.87" rx="3.3" ry="2.5" fill="#dcdcdc" stroke="#555555" stroke-width="1.3"/>
<ellipse cx="62.05" cy="211.95" rx="3.3" ry="2.5" fill="#dcdcdc" stroke="#555555" stroke-width="1.3"/>
<ellipse cx="62.05" cy="225.78" rx="3.3" ry="2.5" fill="#dcdcdc" stroke="#555555" stroke-width="1.3"/>
<ellipse cx="62.05" cy="239.62" rx="3.3" ry="2.5" fill="#dcdcdc" stroke="#555555" stroke-width="1.3"/>
<ellipse cx="46.87" cy="205.03" rx="3.3" ry="2.5" fill="#dcdcdc" stroke="#555555" stroke-width="1.3"/>
<ellipse cx="31.68" cy="198.12" rx="3.3" ry="2.5" fill="#dcdcdc" stroke="#555555" stroke-width="1.3"/>
<ellipse cx="107.6" cy="191.2" rx="3.3" ry="2.5" fill="#dcdcdc" stroke="#555555" stroke-width="1.3"/>
<ellipse cx="77.23" cy="205.03" rx="3.3" ry="2.5" fill="#dcdcdc" stroke="#555555" stroke-width="1.3"/>
<ellipse cx="92.42" cy="198.12" rx="3.3" ry="2.5" fill="#dcdcdc" stroke="#555555" stroke-width="1.3"/>
<ellipse cx="107.6" cy="274.2" rx="3.3" ry="2.5" fill="#dcdcdc" stroke="#555555" stroke-width="1.3"/>
<ellipse cx="107.6" cy="288.03" rx="3.3" ry="2.5" fill="#dcdcdc" stroke="#555555" stroke-width="1.3"/>
<ellipse cx="107.6" cy="301.87" rx="3.3" ry="2.5" fill="#dcdcdc" stroke="#555555" stroke-width="1.3"/>
<ellipse cx="92.42" cy="267.28" rx="3.3" ry="2.5" fill="#dcdcdc" stroke="#555555" stroke-width="1.3"/>
<ellipse cx="77.23" cy="260.37" rx="3.3" ry="2.5" fill="#dcdcdc" stroke="#555555" stroke-width="1.3"/>
<ellipse cx="153.15" cy="253.45" rx="3.3" ry="2.5" fill="#dcdcdc" stroke="#555555" stroke-width="1.3"/>
<ellipse cx="122.78" cy="267.28" rx="3.3" ry="2.5" fill="#dcdcdc" stroke="#555555" stroke-width="1.3"/>
<ellipse cx="137.97" cy="260.37" rx="3.3" ry="2.5" fill="#dcdcdc" stroke="#555555" stroke-width="1.3"/>
<ellipse cx="153.15" cy="336.45" rx="3.3" ry="2.5" fill="#dcdcdc" stroke="#555555" stroke-width="1.3"/>
<ellipse cx="153.15" cy="350.28" rx="3.3" ry="2.5" fill="#dcdcdc" stroke="#555555" stroke-width="1.3"/>
<ellipse cx="153.15" cy="364.12" rx="3.3" ry="2.5" fill="#dcdcdc" stroke="#555555" stroke-width="1.3"/>
<ellipse cx="137.97" cy="329.53" rx="3.3" ry="2.5" fill="#dcdcdc" stroke="#555555" stroke-width="1.3"/>
<ellipse cx="122.78" cy="322.62" rx="3.3" ry="2.5" fill="#dcdcdc" stroke="#555555" stroke-width="1.3"/>
<ellipse cx="198.7" cy="315.7" rx="3.3" ry="2.5" fill="#dcdcdc" stroke="#555555" stroke-width="1.3"/>
<ellipse cx="168.33" cy="329.53" rx="3.3" ry="2.5" fill="#dcdcdc" stroke="#555555" stroke-width="1.3"/>
<ellipse cx="183.52" cy="322.62" rx="3.3" ry="2.5" fill="#dcdcdc" stroke="#555555" stroke-width="1.3"/>
<ellipse cx="198.7" cy="398.7" rx="3.3" ry="2.5" fill="#dcdcdc" stroke="#555555" stroke-width="1.3"/>
<ellipse cx="183.52" cy="391.78" rx="3.3" ry="2.5" fill="#dcdcdc" stroke="#555555" stroke-width="1.3"/>
<ellipse cx="168.33" cy="384.87" rx="3.3" ry="2.5" fill="#dcdcdc" stroke="#555555" stroke-width="1.3"/>
<ellipse cx="244.25" cy="377.95" rx="3.3" ry="2.5" fill="#dcdcdc" stroke="#555555" stroke-width="1.3"/>
<ellipse cx="213.88" cy="391.78" rx="3.3" ry="2.5" fill="#dcdcdc" stroke="#555555" stroke-width="1.3"/>
<ellipse cx="229.07" cy="384.87" rx="3.3" ry="2.5" fill="#dcdcdc" stroke="#555555" stroke-width="1.3"/>
<ellipse cx="153.15" cy="211.95" rx="3.3" ry="2.5" fill="#dcdcdc" stroke="#555555" stroke-width="1.3"/>
<ellipse cx="153.15" cy="225.78" rx="3.3" ry="2.5" fill="#dcdcdc" stroke="#555555" stroke-width="1.3"/>
<ellipse cx="153.15" cy="239.62" rx="3.3" ry="2.5" fill="#dcdcdc" stroke="#555555" stroke-width="1.3"/>
<ellipse cx="137.97" cy="205.03" rx="3.3" ry="2.5" fill="#dcdcdc" stroke="#555555" stroke-width="1.3"/>
<ellipse cx="122.78" cy="198.12" rx="3.3" ry="2.5" fill="#dcdcdc" stroke="#555555" stroke-width="1.3"/>
<ellipse cx="198.7" cy="191.2" rx="3.3" ry="2.5" fill="#dcdcdc" stroke="#555555" stroke-width="1.3"/>
<ellipse cx="168.33" cy="205.03" rx="3.3" ry="2.5" fill="#dcdcdc" stroke="#555555" stroke-width="1.3"/>
<ellipse cx="183.52" cy="198.12" rx="3.3" ry="2.5" fill="#dcdcdc" stroke="#555555" stroke-width="1.3"/>
<ellipse cx="198.7" cy="274.2" rx="3.3" ry="2.5" fill="#dcdcdc" stroke="#555555" stroke-width="1.3"/>
<ellipse cx="198.7" cy="288.03" rx="3.3" ry="2.5" fill="#dcdcdc" stroke="#555555" stroke-width="1.3"/>
<ellipse cx="198.7" cy="301.87" rx="3.3" ry="2.5" fill="#dcdcdc" stroke="#555555" stroke-width="1.3"/>
<ellipse cx="183.52" cy="267.28" rx="3.3" ry="2.5" fill="#dcdcdc" stroke="#555555" stroke-width="1.3"/>
<ellipse cx="168.33" cy="260.37" rx="3.3" ry="2.5" fill="#dcdcdc" stroke="#555555" stroke-width="1.3"/>
<ellipse cx="244.25" cy="253.45" rx="3.3" ry="2.5" fill="#dcdcdc" stroke="#555555" stroke-width="1.3"/>
<ellipse cx="213.88" cy="267.28" rx="3.3" ry="2.5" fill="#dcdcdc" stroke="#555555" stroke-width="1.3"/>
<ellipse cx="229.07" cy="260.37" rx="3.3" ry="2.5" fill="#dcdcdc" stroke="#555555" stroke-width="1.3"/>
<ellipse cx="244.25" cy="336.45" rx="3.3" ry="2.5" fill="#dcdcdc" stroke="#555555" stroke-width="1.3"/>
<ellipse cx="244.25" cy="350.28" rx="3.3" ry="2.5" fill="#dcdcdc" stroke="#555555" stroke-width="1.3"/>
<ellipse cx="244.25" cy="364.12" rx="3.3" ry="2.5" fill="#dcdcdc" stroke="#555555" stroke-width="1.3"/>
<ellipse cx="229.07" cy="329.53" rx="3.3" ry="2.5" fill="#dcdcdc" stroke="#555555" stroke-width="1.3"/>
<ellipse cx="213.88" cy="322.62" rx="3.3" ry="2.5" fill="#dcdcdc" stroke="#555555" stroke-width="1.3"/>
<ellipse cx="289.8" cy="315.7" rx="3.3" ry="2.5" fill="#dcdcdc" stroke="#555555" stroke-width="1.3"/>
<ellipse cx="259.43" cy="329.53" rx="3.3" ry="2.5" fill="#dcdcdc" stroke="#555555" stroke-width="1.3"/>
<ellipse cx="274.62" cy="322.62" rx="3.3" ry="2.5" fill="#dcdcdc" stroke="#555555" stroke-width="1.3"/>
<ellipse cx="289.8" cy="398.7" rx="3.3" ry="2.5" fill="#dcdcdc" stroke="#555555" stroke-width="1.3"/>
<ellipse cx="274.62" cy="391.78" rx="3.3" ry="2.5" fill="#dcdcdc" stroke="#555555" stroke-width="1.3"/>
<ellipse cx="259.43" cy="384.87" rx="3.3" ry="2.5" fill="#dcdcdc" stroke="#555555" stroke-width="1.3"/>
<ellipse cx="335.35" cy="377.95" rx="3.3" ry="2.5" fill="#dcdcdc" stroke="#555555" stroke-width="1.3"/>
<ellipse cx="304.98" cy="391.78" rx="3.3" ry="2.5" fill="#dcdcdc" stroke="#555555" stroke-width="1.3"/>
<ellipse cx="320.17" cy="384.87" rx="3.3" ry="2.5" fill="#dcdcdc" stroke="#555555" stroke-width="1.3"/>
<ellipse cx="244.25" cy="211.95" rx="3.3" ry="2.5" fill="#dcdcdc" stroke="#555555" stroke-width="1.3"/>
<ellipse cx="244.25" cy="225.78" rx="3.3" ry="2.5" fill="#dcdcdc" stroke="#555555" stroke-width="1.3"/>
<ellipse cx="244.25" cy="239.62" rx="3.3" ry="2.5" fill="#dcdcdc" stroke="#555555" stroke-width="1.3"/>
<ellipse cx="229.07" cy="205.03" rx="3.3" ry="2.5" fill="#dcdcdc" stroke="#555555" stroke-width="1.3"/>
<ellipse cx="213.88" cy="198.12" rx="3.3" ry="2.5" fill="#dcdcdc" stroke="#555555" stroke-width="1.3"/>
<ellipse cx="289.8" cy="191.2" rx="3.3" ry="2.5" fill="#dcdcdc" stroke="#555555" stroke-width="1.3"/>
<ellipse cx="259.43" cy="205.03" rx="3.3" ry="2.5" fill="#dcdcdc" stroke="#555555" stroke-width="1.3"/>
<ellipse cx="274.62" cy="198.12" rx="3.3" ry="2.5" fill="#dcdcdc" stroke="#555555" stroke-width="1.3"/>
<ellipse cx="289.8" cy="274.2" rx="3.3" ry="2.5" fill="#dcdcdc" stroke="#555555" stroke-width="1.3"/>
<ellipse cx="289.8" cy="288.03" rx="3.3" ry="2.5" fill="#dcdcdc" stroke="#555555" stroke-width="1.3"/>
<ellipse cx="289.8" cy="301.87" rx="3.3" ry="2.5" fill="#dcdcdc" stroke="#555555" stroke-width="1.3"/>
<ellipse cx="274.62" cy="267.28" rx="3.3" ry="2.5" fill="#dcdcdc" stroke="#555555" stroke-width="1.3"/>
<ellipse cx="259.43" cy="260.37" rx="3.3" ry="2.5" fill="#dcdcdc" stroke="#555555" stroke-width="1.3"/>
<ellipse cx="335.35" cy="253.45" rx="3.3" ry="2.5" fill="#dcdcdc" stroke="#555555" stroke-width="1.3"/>
<ellipse cx="304.98" cy="267.28" rx="3.3" ry="2.5" fill="#dcdcdc" stroke="#555555" stroke-width="1.3"/>
<ellipse cx="320.17" cy="260.37" rx="3.3" ry="2.5" fill="#dcdcdc" stroke="#555555" stroke-width="1.3"/>
<ellipse cx="335.35" cy="336.45" rx="3.3" ry="2.5" fill="#dcdcdc" stroke="#555555" stroke-width="1.3"/>
<ellipse cx="320.17" cy="329.53" rx="3.3" ry="2.5" fill="#dcdcdc" stroke="#555555" stroke-width="1.3"/>
<ellipse cx="304.98" cy="322.62" rx="3.3" ry="2.5" fill="#dcdcdc" stroke="#555555" stroke-width="1.3"/>
<ellipse cx="335.35" cy="211.95" rx="3.3" ry="2.5" fill="#dcdcdc" stroke="#555555" stroke-width="1.3"/>
<ellipse cx="320.17" cy="205.03" rx="3.3" ry="2.5" fill="#dcdcdc" stroke="#555555" stroke-width="1.3"/>
<ellipse cx="304.98" cy="198.12" rx="3.3" ry="2.5" fill="#dcdcdc" stroke="#555555" stroke-width="1.3"/>
</g>
<rect x="44.7" y="248.2" width="216.50" height="92.45" fill="none" stroke="#000" stroke-width="2.2"/>
<line x1="505.1" y1="2.3" x2="505.1" y2="303.9" stroke="#3030ff" stroke-width="1.8" stroke-dasharray="2 4.407"/>
<line x1="407.3" y1="224.0" x2="816.0" y2="224.0" stroke="#3030ff" stroke-width="1.8" stroke-dasharray="2 4.407"/>
<path d="M428.5 153.8V173.8M425.2 153.8H431.8M425.2 173.8H431.8" stroke="#000" stroke-width="1.0" fill="none"/>
<rect x="424.6" y="159.9" width="7.8" height="7.8" fill="#000"/>
<path d="M452.4 245.8V265.8M449.09999999999997 245.8H455.7M449.09999999999997 265.8H455.7" stroke="#000" stroke-width="1.0" fill="none"/>
<rect x="448.5" y="251.9" width="7.8" height="7.8" fill="#000"/>
<path d="M476.7 274.9V294.9M473.4 274.9H480.0M473.4 294.9H480.0" stroke="#000" stroke-width="1.0" fill="none"/>
<rect x="472.8" y="281.0" width="7.8" height="7.8" fill="#000"/>
<path d="M501.3 261.9V281.9M498.0 261.9H504.6M498.0 281.9H504.6" stroke="#000" stroke-width="1.0" fill="none"/>
<rect x="497.40000000000003" y="268.0" width="7.8" height="7.8" fill="#000"/>
<path d="M525.4 246.8V266.8M522.1 246.8H528.6999999999999M522.1 266.8H528.6999999999999" stroke="#000" stroke-width="1.0" fill="none"/>
<rect x="521.5" y="252.9" width="7.8" height="7.8" fill="#000"/>
<path d="M453.0 172.6V192.6M449.7 172.6H456.3M449.7 192.6H456.3" stroke="#ff3030" stroke-width="0.9" fill="none"/>
<circle cx="453.0" cy="182.6" r="4.3" fill="#f00"/>
<path d="M476.8 242.6V262.6M473.5 242.6H480.1M473.5 262.6H480.1" stroke="#ff3030" stroke-width="0.9" fill="none"/>
<circle cx="476.8" cy="252.6" r="4.3" fill="#f00"/>
<path d="M501.3 267.0V287.0M498.0 267.0H504.6M498.0 287.0H504.6" stroke="#ff3030" stroke-width="0.9" fill="none"/>
<circle cx="501.3" cy="277.0" r="4.3" fill="#f00"/>
<path d="M525.4 250.8V270.8M522.1 250.8H528.6999999999999M522.1 270.8H528.6999999999999" stroke="#ff3030" stroke-width="0.9" fill="none"/>
<circle cx="525.4" cy="260.8" r="4.3" fill="#f00"/>
<path d="M549.8 237.6V257.6M546.5 237.6H553.0999999999999M546.5 257.6H553.0999999999999" stroke="#ff3030" stroke-width="0.9" fill="none"/>
<circle cx="549.8" cy="247.6" r="4.3" fill="#f00"/>
<path d="M505.1 214.9V232.9M501.90000000000003 214.9H508.3M501.90000000000003 232.9H508.3" stroke="#00f" stroke-width="1.0" fill="none"/>
<path d="M505.1 218.5L510.6 223.9L505.1 229.3L499.6 223.9Z" fill="#00f"/>
<path d="M410.28 11.09L410.42 12.59M410.93 17.80L411.07 19.29M411.58 24.51L411.73 26.00M412.25 31.21L412.41 32.70M412.94 37.91L413.09 39.40M413.64 44.60L413.79 46.09M414.35 51.30L414.51 52.79M415.07 57.98L415.24 59.48M415.82 64.67L415.98 66.16M416.57 71.35L416.75 72.84M417.35 78.03L417.53 79.52M418.14 84.70L418.33 86.19M418.96 91.37L419.14 92.86M419.79 98.04L419.98 99.52M420.65 104.70L420.84 106.18M421.52 111.35L421.72 112.83M422.42 117.99L422.63 119.48M423.35 124.63L423.57 126.12M424.31 131.27L424.53 132.75M425.29 137.89L425.52 139.37M426.30 144.51L426.54 145.99M427.35 151.11L427.59 152.59M428.43 157.71L428.69 159.19M429.55 164.29L429.82 165.77M430.72 170.86L430.99 172.34M431.93 177.42L432.21 178.89M433.19 183.96L433.48 185.43M434.50 190.48L434.81 191.94M435.87 196.98L436.20 198.44M437.31 203.45L437.65 204.91M438.82 209.90L439.19 211.36M440.42 216.32L440.80 217.77M442.11 222.69L442.52 224.14M443.91 229.02L444.35 230.46M445.83 235.30L446.30 236.72M447.83 241.31L448.34 242.72M449.83 246.83L450.38 248.23M451.83 251.87L452.43 253.25M453.83 256.46L454.48 257.81M455.83 260.62L456.54 261.94M457.83 264.37L458.60 265.66M459.83 267.73L460.66 268.98M461.83 270.72L462.73 271.92M463.83 273.36L464.81 274.50M465.83 275.67L466.89 276.73M467.83 277.67L468.97 278.64M469.83 279.36L471.05 280.23M471.83 280.78L473.13 281.52M473.83 281.92L475.20 282.53M475.83 282.81L477.26 283.28M477.83 283.47L479.30 283.78M479.83 283.89L481.32 284.05M481.83 284.10L483.33 284.11M483.83 284.11L485.32 283.97M485.83 283.93L487.31 283.66M487.83 283.57L489.28 283.18M489.83 283.03L491.25 282.54M491.83 282.34L493.21 281.76M493.83 281.50L495.18 280.84M495.83 280.52L497.14 279.79M497.83 279.41L499.10 278.62M499.83 278.17L501.07 277.33M501.83 276.82L503.04 275.93M503.83 275.36L505.01 274.43M505.83 273.80L506.98 272.84M507.83 272.14L508.96 271.15M509.83 270.40L510.94 269.39M511.83 268.57L512.92 267.54M513.83 266.67L514.90 265.62M515.83 264.70L516.88 263.63M517.83 262.67L518.87 261.59M519.83 260.58L520.85 259.48M521.83 258.43L522.84 257.32M523.83 256.23L524.83 255.11M525.83 253.99L526.82 252.86M527.83 251.71L528.81 250.57M529.83 249.39L530.80 248.25M531.83 247.04L532.79 245.89M533.83 244.65L534.79 243.50M535.83 242.25L536.78 241.09M537.83 239.82L538.78 238.65M539.83 237.36L540.77 236.20M541.83 234.90L542.77 233.73M543.83 232.42L544.77 231.25M545.83 229.92L546.77 228.75M547.83 227.42L548.76 226.25M549.83 224.91L550.76 223.74M551.83 222.40L552.76 221.23M553.83 219.88L554.76 218.71M555.83 217.37L556.76 216.19M557.83 214.85L558.76 213.68M559.83 212.34L560.76 211.17M561.83 209.84L562.77 208.67M563.83 207.34L564.77 206.17M565.83 204.85L566.77 203.68M567.83 202.37L568.77 201.20M569.83 199.90L570.78 198.73M571.83 197.44L572.78 196.28M573.83 194.99L574.78 193.83M575.83 192.56L576.79 191.40M577.83 190.14L578.79 188.99M579.83 187.74L580.79 186.59M581.83 185.36L582.80 184.21M583.83 182.99L584.80 181.85M585.83 180.65L586.81 179.51M587.83 178.32L588.81 177.18M589.83 176.01L590.82 174.88M591.83 173.72L592.82 172.59M593.83 171.45L594.83 170.33M595.83 169.21L596.83 168.09M597.83 166.98L598.84 165.87M599.83 164.78L600.84 163.67M601.83 162.60L602.85 161.50M603.83 160.44L604.85 159.35M605.83 158.31L606.86 157.22M607.83 156.20L608.87 155.12M609.83 154.11L610.87 153.03M611.83 152.05L612.88 150.98M613.83 150.01L614.89 148.95M615.83 147.99L616.89 146.94M617.83 146.00L618.90 144.95M619.83 144.04L620.91 142.99M621.83 142.10L622.91 141.06M623.83 140.18L624.92 139.15M625.83 138.29L626.93 137.26M627.83 136.42L628.93 135.40M629.83 134.57L630.94 133.57M631.83 132.76L632.95 131.75M633.83 130.96L634.95 129.97M635.83 129.19L636.96 128.20M637.83 127.44L638.97 126.46M639.83 125.72L640.97 124.75M641.83 124.02L642.98 123.06M643.83 122.35L644.99 121.39M645.83 120.70L646.99 119.75M647.83 119.07L649.00 118.13M649.83 117.47L651.01 116.54M651.83 115.89L653.01 114.97M653.83 114.33L655.02 113.42M655.83 112.80L657.03 111.89M657.83 111.29L659.03 110.39M659.83 109.80L661.04 108.91M661.83 108.33L663.05 107.46M663.83 106.89L665.05 106.02M665.83 105.47L667.06 104.61M667.83 104.07L669.06 103.22M669.83 102.69L671.07 101.85M671.83 101.34L673.08 100.50M673.83 100.00L675.08 99.18M675.83 98.69L677.09 97.87M677.83 97.40L679.09 96.59M679.83 96.12L681.10 95.33M681.83 94.87L683.11 94.08M683.83 93.64L685.11 92.86M685.83 92.43L687.12 91.66M687.83 91.23L689.12 90.48M689.83 90.06L691.13 89.31M691.83 88.91L693.13 88.17M693.83 87.77L695.14 87.04M695.83 86.66L697.14 85.93M697.83 85.56L699.15 84.85M699.83 84.48L701.15 83.78M701.83 83.42L703.16 82.72M703.83 82.37L705.16 81.69M705.83 81.35L707.17 80.67M707.83 80.34L709.17 79.67M709.83 79.35L711.18 78.69M711.83 78.37L713.18 77.72M713.83 77.41L715.19 76.77M715.83 76.47L717.19 75.84M717.83 75.54L719.19 74.92M719.83 74.63L721.20 74.02M721.83 73.74L723.20 73.13M723.83 72.86L725.21 72.26M725.83 71.99L727.21 71.41M727.83 71.14L729.21 70.57M729.83 70.31L731.22 69.74M731.83 69.49L733.22 68.93M733.83 68.68L735.22 68.13M735.83 67.89L737.23 67.35M737.83 67.11L739.23 66.58M739.83 66.35L741.23 65.82M741.83 65.60L743.24 65.08M743.83 64.86L745.24 64.35M745.83 64.14L747.24 63.63M747.83 63.42L749.25 62.93M749.83 62.72L751.25 62.24M751.83 62.04L753.25 61.56M753.83 61.36L755.25 60.89M755.83 60.70L757.26 60.24M757.83 60.05L759.26 59.59M759.83 59.41L761.26 58.96M761.83 58.78L763.26 58.34M763.83 58.17L765.26 57.73M765.83 57.56L767.27 57.13M767.83 56.97L769.27 56.55M769.83 56.38L771.27 55.97M771.83 55.81L773.27 55.40M773.83 55.25L775.27 54.85M775.83 54.69L777.28 54.30M777.83 54.15L779.28 53.77M779.83 53.62L781.28 53.24M781.83 53.10L783.28 52.72M783.83 52.58L785.28 52.22M785.83 52.08L787.29 51.72M787.83 51.58L789.29 51.23M789.83 51.10L791.29 50.75M791.83 50.62L793.29 50.28M793.83 50.15L795.29 49.81M795.83 49.69L797.29 49.36M797.83 49.24L799.29 48.91M799.83 48.80L801.29 48.48M801.83 48.36L803.30 48.05M803.83 47.93L805.30 47.63M805.83 47.51L807.30 47.21M807.83 47.10L809.30 46.81M809.83 46.70L811.30 46.41M811.83 46.30L813.30 46.02M813.83 45.91L815.30 45.63M815.83 45.53L816.00 45.50" fill="none" stroke="#000" stroke-width="1.35" stroke-linecap="butt"/>
<path d="M427.21 8.38L427.36 9.88M427.91 15.08L428.07 16.57M428.62 21.78L428.78 23.27M429.35 28.47L429.51 29.97M430.09 35.17L430.26 36.66M430.85 41.85L431.02 43.34M431.62 48.54L431.80 50.03M432.41 55.22L432.59 56.71M433.22 61.89L433.41 63.38M434.05 68.56L434.24 70.05M434.90 75.23L435.09 76.72M435.76 81.89L435.96 83.38M436.65 88.55L436.85 90.04M437.56 95.20L437.77 96.69M438.50 101.84L438.71 103.33M439.46 108.48L439.68 109.97M440.45 115.11L440.67 116.59M441.46 121.73L441.70 123.22M442.51 128.35L442.76 129.83M443.59 134.95L443.84 136.43M444.71 141.55L444.97 143.02M445.87 148.13L446.14 149.61M447.06 154.70L447.34 156.17M448.30 161.26L448.59 162.73M449.59 167.80L449.90 169.26M450.94 174.32L451.25 175.78M452.34 180.82L452.67 182.28M453.80 187.30L454.15 188.76M455.34 193.76L455.70 195.21M456.95 200.18L457.34 201.63M458.65 206.57L459.06 208.01M460.46 212.91L460.89 214.35M462.37 219.21L462.84 220.64M464.37 225.31L464.87 226.72M466.37 230.95L466.91 232.35M468.37 236.15L468.95 237.53M470.37 240.92L471.00 242.29M472.37 245.30L473.04 246.64M474.37 249.29L475.10 250.61M476.37 252.92L477.15 254.21M478.37 256.21L479.21 257.45M480.37 259.16L481.28 260.36M482.37 261.80L483.35 262.94M484.37 264.14L485.42 265.21M486.37 266.19L487.49 267.19M488.37 267.97L489.56 268.88M490.37 269.50L491.64 270.31M492.37 270.78L493.70 271.48M494.37 271.83L495.76 272.41M496.37 272.66L497.81 273.11M498.37 273.28L499.84 273.59M500.37 273.70L501.86 273.88M502.37 273.94L503.87 273.98M504.37 274.00L505.87 273.91M506.37 273.88L507.86 273.68M508.37 273.61L509.84 273.30M510.37 273.19L511.82 272.79M512.37 272.63L513.79 272.14M514.37 271.93L515.76 271.36M516.37 271.11L517.73 270.47M518.37 270.17L519.70 269.47M520.37 269.12L521.67 268.37M522.37 267.96L523.64 267.16M524.37 266.70L525.62 265.86M526.37 265.35L527.59 264.48M528.37 263.92L529.57 263.01M530.37 262.40L531.55 261.47M532.37 260.81L533.53 259.85M534.37 259.15L535.51 258.17M536.37 257.42L537.49 256.42M538.37 255.63L539.47 254.61M540.37 253.78L541.46 252.75M542.37 251.89L543.45 250.84M544.37 249.94L545.44 248.88M546.37 247.95L547.43 246.88M548.37 245.92L549.42 244.84M550.37 243.85L551.41 242.77M552.37 241.75L553.40 240.66M554.37 239.62L555.39 238.52M556.37 237.46L557.39 236.36M558.37 235.28L559.38 234.17M560.37 233.08L561.38 231.96M562.37 230.86L563.37 229.74M564.37 228.62L565.37 227.49M566.37 226.36L567.37 225.24M568.37 224.10L569.36 222.97M570.37 221.82L571.36 220.69M572.37 219.54L573.36 218.41M574.37 217.25L575.36 216.12M576.37 214.96L577.36 213.83M578.37 212.66L579.36 211.53M580.37 210.37L581.36 209.24M582.37 208.07L583.36 206.94M584.37 205.78L585.36 204.65M586.37 203.49L587.36 202.37M588.37 201.21L589.36 200.09M590.37 198.94L591.36 197.81M592.37 196.67L593.37 195.54M594.37 194.41L595.37 193.29M596.37 192.16L597.37 191.04M598.37 189.92L599.37 188.80M600.37 187.69L601.38 186.58M602.37 185.48L603.38 184.37M604.37 183.27L605.38 182.17M606.37 181.09L607.39 179.98M608.37 178.91L609.39 177.81M610.37 176.76L611.40 175.66M612.37 174.61L613.40 173.52M614.37 172.49L615.40 171.40M616.37 170.38L617.41 169.30M618.37 168.29L619.41 167.21M620.37 166.22L621.42 165.14M622.37 164.16L623.42 163.09M624.37 162.13L625.43 161.06M626.37 160.11L627.43 159.05M628.37 158.11L629.44 157.06M630.37 156.14L631.44 155.09M632.37 154.18L633.45 153.14M634.37 152.24L635.46 151.20M636.37 150.33L637.46 149.29M638.37 148.43L639.47 147.40M640.37 146.55L641.47 145.53M642.37 144.70L643.48 143.69M644.37 142.87L645.48 141.86M646.37 141.05L647.49 140.05M648.37 139.26L649.50 138.27M650.37 137.49L651.50 136.50M652.37 135.74L653.51 134.76M654.37 134.01L655.51 133.04M656.37 132.31L657.52 131.34M658.37 130.62L659.53 129.66M660.37 128.96L661.53 128.00M662.37 127.31L663.54 126.37M664.37 125.69L665.54 124.75M666.37 124.09L667.55 123.16M668.37 122.51L669.56 121.59M670.37 120.95L671.56 120.03M672.37 119.41L673.57 118.50M674.37 117.89L675.57 116.99M676.37 116.40L677.58 115.50M678.37 114.92L679.59 114.04M680.37 113.46L681.59 112.59M682.37 112.03L683.60 111.16M684.37 110.61L685.60 109.75M686.37 109.21L687.61 108.36M688.37 107.84L689.61 107.00M690.37 106.48L691.62 105.65M692.37 105.14L693.63 104.32M694.37 103.83L695.63 103.01M696.37 102.53L697.64 101.72M698.37 101.25L699.64 100.45M700.37 99.99L701.65 99.19M702.37 98.74L703.65 97.96M704.37 97.52L705.66 96.75M706.37 96.31L707.66 95.55M708.37 95.13L709.67 94.37M710.37 93.96L711.67 93.21M712.37 92.81L713.68 92.07M714.37 91.67L715.68 90.94M716.37 90.55L717.69 89.83M718.37 89.45L719.69 88.74M720.37 88.37L721.70 87.67M722.37 87.31L723.70 86.61M724.37 86.26L725.71 85.57M726.37 85.22L727.71 84.54M728.37 84.21L729.71 83.53M730.37 83.20L731.72 82.54M732.37 82.22L733.72 81.56M734.37 81.25L735.73 80.60M736.37 80.29L737.73 79.66M738.37 79.36L739.73 78.73M740.37 78.43L741.74 77.81M742.37 77.52L743.74 76.91M744.37 76.63L745.75 76.02M746.37 75.75L747.75 75.15M748.37 74.88L749.75 74.29M750.37 74.03L751.76 73.45M752.37 73.19L753.76 72.62M754.37 72.37L755.76 71.80M756.37 71.55L757.77 71.00M758.37 70.76L759.77 70.21M760.37 69.97L761.77 69.43M762.37 69.20L763.77 68.67M764.37 68.44L765.78 67.92M766.37 67.69L767.78 67.18M768.37 66.96L769.78 66.45M770.37 66.24L771.79 65.74M772.37 65.53L773.79 65.03M774.37 64.83L775.79 64.34M776.37 64.14L777.79 63.66M778.37 63.47L779.80 63.00M780.37 62.80L781.80 62.34M782.37 62.15L783.80 61.69M784.37 61.51L785.80 61.06M786.37 60.88L787.81 60.43M788.37 60.26L789.81 59.82M790.37 59.65L791.81 59.22M792.37 59.05L793.81 58.63M794.37 58.46L795.81 58.04M796.37 57.88L797.82 57.47M798.37 57.31L799.82 56.91M800.37 56.75L801.82 56.35M802.37 56.20L803.82 55.81M804.37 55.66L805.82 55.28M806.37 55.13L807.82 54.75M808.37 54.61L809.83 54.23M810.37 54.09L811.83 53.73M812.37 53.59L813.83 53.23M814.37 53.09L815.83 52.74" fill="none" stroke="#f00" stroke-width="1.35" stroke-linecap="butt"/>
<rect x="404.5" y="3.3" width="411.5" height="300.59999999999997" fill="none" stroke="#000" stroke-width="2.0"/>
<path d="M397.2 25.57H404.5 M397.2 81.23H404.5 M397.2 136.90H404.5 M397.2 192.56H404.5 M397.2 248.23H404.5 M397.2 303.89H404.5 M400.9 53.40H404.5 M400.9 109.07H404.5 M400.9 164.73H404.5 M400.9 220.40H404.5 M400.9 276.06H404.5 M428.70 303.9V310.7 M477.11 303.9V310.7 M525.52 303.9V310.7 M573.94 303.9V310.7 M622.35 303.9V310.7 M670.76 303.9V310.7 M719.17 303.9V310.7 M767.58 303.9V310.7 M816.00 303.9V310.7 M404.49 303.9V307.59999999999997 M452.91 303.9V307.59999999999997 M501.32 303.9V307.59999999999997 M549.73 303.9V307.59999999999997 M598.14 303.9V307.59999999999997 M646.55 303.9V307.59999999999997 M694.97 303.9V307.59999999999997 M743.38 303.9V307.59999999999997 M791.79 303.9V307.59999999999997" stroke="#000" stroke-width="1.9" fill="none"/>
<rect x="521.8" y="12.6" width="133.8" height="57.8" fill="#fff" stroke="#6a6a6a" stroke-width="1.3"/>
<rect x="540.3" y="21.3" width="8" height="8" fill="#000"/>
<circle cx="544.45" cy="43.7" r="4.4" fill="#f00"/>
<path d="M544.6 56.8L550.1 62.1L544.6 67.4L539.1 62.1Z" fill="#00f"/>
<text x="565.2" y="30" font-size="14.6" text-anchor="start" textLength="86.5" lengthAdjust="spacingAndGlyphs">AB-graphyne</text>
<text x="565.2" y="48.6" font-size="14.6" text-anchor="start" textLength="85" lengthAdjust="spacingAndGlyphs">Ab-graphyne</text>
<text x="565.2" y="66.8" font-size="14.6" text-anchor="start" textLength="87.5" lengthAdjust="spacingAndGlyphs">AB-graphene</text>
<text x="393.8" y="30.17" font-size="14.5" text-anchor="end" >0</text>
<text x="393.8" y="85.83499999999998" font-size="14.5" text-anchor="end" >-5</text>
<text x="393.8" y="141.49999999999997" font-size="14.5" text-anchor="end" >-10</text>
<text x="393.8" y="197.16499999999996" font-size="14.5" text-anchor="end" >-15</text>
<text x="393.8" y="252.82999999999996" font-size="14.5" text-anchor="end" >-20</text>
<text x="393.8" y="308.495" font-size="14.5" text-anchor="end" >-25</text>
<text x="428.7" y="325.5" font-size="14.8" text-anchor="middle" >2.8</text>
<text x="477.11199999999997" y="325.5" font-size="14.8" text-anchor="middle" >3.2</text>
<text x="525.524" y="325.5" font-size="14.8" text-anchor="middle" >3.6</text>
<text x="573.936" y="325.5" font-size="14.8" text-anchor="middle" >4.0</text>
<text x="622.3480000000001" y="325.5" font-size="14.8" text-anchor="middle" >4.4</text>
<text x="670.76" y="325.5" font-size="14.8" text-anchor="middle" >4.8</text>
<text x="719.172" y="325.5" font-size="14.8" text-anchor="middle" >5.2</text>
<text x="767.584" y="325.5" font-size="14.8" text-anchor="middle" >5.6</text>
<text x="815.9960000000001" y="325.5" font-size="14.8" text-anchor="middle" >6.0</text>
<text x="153.8" y="16.6" font-size="15.8" text-anchor="middle" textLength="97" lengthAdjust="spacingAndGlyphs">AB-graphene</text>
<text x="148.9" y="131.3" font-size="15.8" text-anchor="middle" textLength="96" lengthAdjust="spacingAndGlyphs">AB-graphyne</text>
<text x="150" y="244.6" font-size="15.8" text-anchor="middle" textLength="94" lengthAdjust="spacingAndGlyphs">Ab-graphyne</text>
<text x="8.0" y="16.3" font-size="19" text-anchor="start" letter-spacing="0.7">(a)</text>
<text x="313.0" y="17.4" font-size="19" text-anchor="start" letter-spacing="0.7">(b)</text>
<text x="592" y="354" font-size="16"><tspan font-style="italic">R</tspan><tspan dx="4">(Å)</tspan></text>
<text transform="translate(359.6,239.8) rotate(-90)" x="0" y="0" font-size="17" font-style="italic" >Δ</text>
<text transform="translate(359.6,239.8) rotate(-90)" x="9.8" y="0" font-size="17" font-style="italic" >E</text>
<text transform="translate(359.6,239.8) rotate(-90)" x="23.4" y="0" font-size="17" >(</text>
<text transform="translate(359.6,239.8) rotate(-90)" x="32.8" y="0" font-size="17" font-style="italic" >R</text>
<text transform="translate(359.6,239.8) rotate(-90)" x="46.4" y="0" font-size="17" >)</text>
<text transform="translate(359.6,239.8) rotate(-90)" x="58.1" y="0" font-size="17" textLength="90.1" lengthAdjust="spacingAndGlyphs">(meV/atom)</text>
</svg>
</body></html>
